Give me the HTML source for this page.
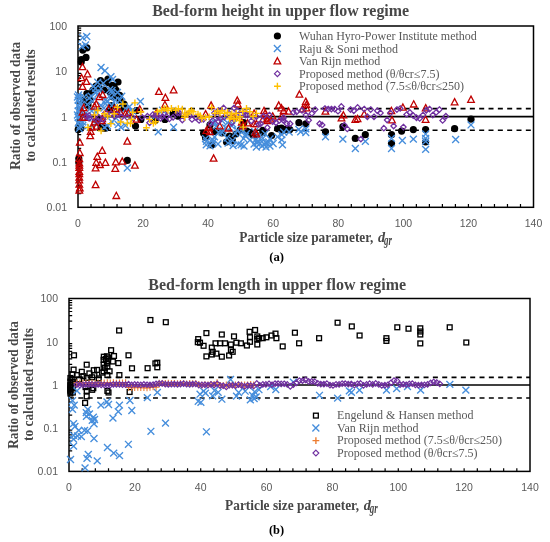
<!DOCTYPE html>
<html><head><meta charset="utf-8"><title>Bed-form charts</title><style>html,body{margin:0;padding:0;background:#fff}
svg{display:block}
.tk{font-family:"Liberation Sans",sans-serif;font-size:10.5px;fill:#595959}
.ttl{font-family:"Liberation Serif",serif;font-weight:bold;font-size:16px;fill:#474747}
.ax{font-family:"Liberation Serif",serif;font-weight:bold;font-size:14.2px;fill:#474747}
.lg{font-family:"Liberation Serif",serif;font-size:12px;fill:#595959}
.cap{font-family:"Liberation Serif",serif;font-weight:bold;font-size:13.2px;fill:#000}
</style></head><body>
<svg width="550" height="542" viewBox="0 0 550 542">
<rect width="550" height="542" fill="#fff"/>
<rect x="78" y="26" width="455.5" height="181.3" fill="none" stroke="#000" stroke-width="1.5"/>
<path d="M91.01 207.3V204.10000000000002M104.03 207.3V204.10000000000002M117.04 207.3V204.10000000000002M130.06 207.3V204.10000000000002M143.07 207.3V204.10000000000002M156.09 207.3V204.10000000000002M169.10 207.3V204.10000000000002M182.11 207.3V204.10000000000002M195.13 207.3V204.10000000000002M208.14 207.3V204.10000000000002M221.16 207.3V204.10000000000002M234.17 207.3V204.10000000000002M247.19 207.3V204.10000000000002M260.20 207.3V204.10000000000002M273.21 207.3V204.10000000000002M286.23 207.3V204.10000000000002M299.24 207.3V204.10000000000002M312.26 207.3V204.10000000000002M325.27 207.3V204.10000000000002M338.29 207.3V204.10000000000002M351.30 207.3V204.10000000000002M364.31 207.3V204.10000000000002M377.33 207.3V204.10000000000002M390.34 207.3V204.10000000000002M403.36 207.3V204.10000000000002M416.37 207.3V204.10000000000002M429.39 207.3V204.10000000000002M442.40 207.3V204.10000000000002M455.41 207.3V204.10000000000002M468.43 207.3V204.10000000000002M481.44 207.3V204.10000000000002M494.46 207.3V204.10000000000002M507.47 207.3V204.10000000000002M520.49 207.3V204.10000000000002M78 193.66H81.2M78 185.67H81.2M78 180.01H81.2M78 175.62H81.2M78 172.03H81.2M78 169.00H81.2M78 166.37H81.2M78 164.05H81.2M78 148.33H81.2M78 140.35H81.2M78 134.69H81.2M78 130.29H81.2M78 126.71H81.2M78 123.67H81.2M78 121.04H81.2M78 118.72H81.2M78 103.01H81.2M78 95.02H81.2M78 89.36H81.2M78 84.97H81.2M78 81.38H81.2M78 78.35H81.2M78 75.72H81.2M78 73.40H81.2M78 57.68H81.2M78 49.70H81.2M78 44.04H81.2M78 39.64H81.2M78 36.06H81.2M78 33.02H81.2M78 30.39H81.2M78 28.07H81.2" stroke="#000" stroke-width="1.2" fill="none"/>
<text x="78.0" y="226.8" text-anchor="middle" class="tk">0</text>
<text x="143.1" y="226.8" text-anchor="middle" class="tk">20</text>
<text x="208.1" y="226.8" text-anchor="middle" class="tk">40</text>
<text x="273.2" y="226.8" text-anchor="middle" class="tk">60</text>
<text x="338.3" y="226.8" text-anchor="middle" class="tk">80</text>
<text x="403.4" y="226.8" text-anchor="middle" class="tk">100</text>
<text x="468.4" y="226.8" text-anchor="middle" class="tk">120</text>
<text x="533.5" y="226.8" text-anchor="middle" class="tk">140</text>
<text x="67" y="211.1" text-anchor="end" class="tk">0.01</text>
<text x="67" y="165.8" text-anchor="end" class="tk">0.1</text>
<text x="67" y="120.5" text-anchor="end" class="tk">1</text>
<text x="67" y="75.1" text-anchor="end" class="tk">10</text>
<text x="67" y="29.8" text-anchor="end" class="tk">100</text>
<text x="152.2" y="16.4" class="ttl" textLength="256.9" lengthAdjust="spacingAndGlyphs">Bed-form height in upper flow regime</text>
<text transform="translate(19.8,169.8) rotate(-90)" class="ax" font-size="13.6" textLength="128" lengthAdjust="spacingAndGlyphs">Ratio of observed data</text>
<text transform="translate(35.1,161.8) rotate(-90)" class="ax" font-size="13.6" textLength="112.6" lengthAdjust="spacingAndGlyphs">to calculated results</text>
<text x="239.3" y="241.6" class="ax" textLength="134" lengthAdjust="spacingAndGlyphs">Particle size parameter,</text>
<text x="377.9" y="241.6" class="ax" font-style="italic">d</text>
<text x="383.9" y="244.5" class="ax" font-style="italic" font-size="9.5" textLength="8" lengthAdjust="spacingAndGlyphs">gr</text>
<text x="269.3" y="260.6" class="cap" textLength="14.8" lengthAdjust="spacingAndGlyphs">(a)</text>
<path d="M78 116.65H533.5" stroke="#000" stroke-width="1.6"/>
<path d="M78 108.67H533.5M78 130.29H533.5" stroke="#000" stroke-width="1.6" stroke-dasharray="5 4.33"/>
<circle cx="86.9" cy="47.8" r="3.6" fill="#000"/>
<circle cx="82.8" cy="50.1" r="3.6" fill="#000"/>
<circle cx="86.0" cy="57.4" r="3.6" fill="#000"/>
<circle cx="81.4" cy="59.6" r="3.6" fill="#000"/>
<circle cx="81.2" cy="62.0" r="3.6" fill="#000"/>
<circle cx="100.5" cy="80.5" r="3.6" fill="#000"/>
<circle cx="106.5" cy="82.7" r="3.6" fill="#000"/>
<circle cx="112.0" cy="85.4" r="3.6" fill="#000"/>
<circle cx="89.1" cy="94.2" r="3.6" fill="#000"/>
<circle cx="119.6" cy="95.3" r="3.6" fill="#000"/>
<circle cx="98.9" cy="87.1" r="3.6" fill="#000"/>
<circle cx="114.2" cy="87.1" r="3.6" fill="#000"/>
<circle cx="83.6" cy="100.2" r="3.6" fill="#000"/>
<circle cx="86.9" cy="93.6" r="3.6" fill="#000"/>
<circle cx="112.0" cy="105.6" r="3.6" fill="#000"/>
<circle cx="121.8" cy="107.8" r="3.6" fill="#000"/>
<circle cx="97.8" cy="119.8" r="3.6" fill="#000"/>
<circle cx="101.1" cy="127.4" r="3.6" fill="#000"/>
<circle cx="78.2" cy="129.6" r="3.6" fill="#000"/>
<circle cx="127.3" cy="160.4" r="3.6" fill="#000"/>
<circle cx="103.3" cy="128.2" r="3.6" fill="#000"/>
<circle cx="135.5" cy="126.0" r="3.6" fill="#000"/>
<circle cx="205.5" cy="137.7" r="3.6" fill="#000"/>
<circle cx="211.8" cy="145.0" r="3.6" fill="#000"/>
<circle cx="155.1" cy="120.5" r="3.6" fill="#000"/>
<circle cx="164.9" cy="119.4" r="3.6" fill="#000"/>
<circle cx="173.1" cy="113.4" r="3.6" fill="#000"/>
<circle cx="178.0" cy="116.2" r="3.6" fill="#000"/>
<circle cx="140.9" cy="119.4" r="3.6" fill="#000"/>
<circle cx="136.5" cy="110.7" r="3.6" fill="#000"/>
<circle cx="210.0" cy="124.9" r="3.6" fill="#000"/>
<circle cx="214.4" cy="131.4" r="3.6" fill="#000"/>
<circle cx="243.8" cy="122.7" r="3.6" fill="#000"/>
<circle cx="229.5" cy="136.2" r="3.6" fill="#000"/>
<circle cx="232.4" cy="140.5" r="3.6" fill="#000"/>
<circle cx="226.5" cy="142.0" r="3.6" fill="#000"/>
<circle cx="246.9" cy="131.1" r="3.6" fill="#000"/>
<circle cx="252.7" cy="134.7" r="3.6" fill="#000"/>
<circle cx="262.9" cy="132.5" r="3.6" fill="#000"/>
<circle cx="271.6" cy="135.5" r="3.6" fill="#000"/>
<circle cx="262.9" cy="130.3" r="3.6" fill="#000"/>
<circle cx="281.4" cy="128.2" r="3.6" fill="#000"/>
<circle cx="285.8" cy="129.3" r="3.6" fill="#000"/>
<circle cx="298.9" cy="122.7" r="3.6" fill="#000"/>
<circle cx="250.9" cy="132.5" r="3.6" fill="#000"/>
<circle cx="289.8" cy="129.6" r="3.6" fill="#000"/>
<circle cx="305.8" cy="123.8" r="3.6" fill="#000"/>
<circle cx="325.5" cy="131.8" r="3.6" fill="#000"/>
<circle cx="342.9" cy="126.7" r="3.6" fill="#000"/>
<circle cx="355.3" cy="138.4" r="3.6" fill="#000"/>
<circle cx="365.3" cy="134.7" r="3.6" fill="#000"/>
<circle cx="391.5" cy="134.7" r="3.6" fill="#000"/>
<circle cx="391.5" cy="143.5" r="3.6" fill="#000"/>
<circle cx="401.6" cy="131.1" r="3.6" fill="#000"/>
<circle cx="413.3" cy="129.6" r="3.6" fill="#000"/>
<circle cx="425.6" cy="129.6" r="3.6" fill="#000"/>
<circle cx="425.6" cy="142.0" r="3.6" fill="#000"/>
<circle cx="454.6" cy="128.7" r="3.6" fill="#000"/>
<circle cx="471.0" cy="119.2" r="3.6" fill="#000"/>
<circle cx="88.0" cy="105.0" r="3.6" fill="#000"/>
<circle cx="79.0" cy="126.0" r="3.6" fill="#000"/>
<circle cx="277.6" cy="128.6" r="3.6" fill="#000"/>
<circle cx="282.0" cy="130.8" r="3.6" fill="#000"/>
<circle cx="240.5" cy="129.7" r="3.6" fill="#000"/>
<circle cx="255.8" cy="135.2" r="3.6" fill="#000"/>
<circle cx="236.0" cy="134.0" r="3.6" fill="#000"/>
<circle cx="222.0" cy="133.0" r="3.6" fill="#000"/>
<circle cx="80.9" cy="128.2" r="3.6" fill="#000"/>
<circle cx="105.5" cy="128.2" r="3.6" fill="#000"/>
<circle cx="90.0" cy="100.0" r="3.6" fill="#000"/>
<circle cx="110.0" cy="110.0" r="3.6" fill="#000"/>
<circle cx="203.6" cy="133.2" r="3.6" fill="#000"/>
<circle cx="78.8" cy="158.5" r="3.6" fill="#000"/>
<circle cx="78.8" cy="162.5" r="3.6" fill="#000"/>
<circle cx="96.0" cy="86.0" r="3.6" fill="#000"/>
<circle cx="104.0" cy="90.0" r="3.6" fill="#000"/>
<circle cx="110.0" cy="92.0" r="3.6" fill="#000"/>
<circle cx="116.0" cy="90.0" r="3.6" fill="#000"/>
<circle cx="120.0" cy="100.0" r="3.6" fill="#000"/>
<circle cx="124.0" cy="104.0" r="3.6" fill="#000"/>
<circle cx="113.0" cy="97.0" r="3.6" fill="#000"/>
<circle cx="93.0" cy="90.0" r="3.6" fill="#000"/>
<circle cx="118.0" cy="82.0" r="3.6" fill="#000"/>
<circle cx="108.0" cy="79.0" r="3.6" fill="#000"/>
<path d="M79.3 34.1L86.2 41.1M79.3 41.1L86.2 34.1" stroke="#468EDC" stroke-width="1.35" fill="none"/>
<path d="M83.2 33.0L90.2 40.0M83.2 40.0L90.2 33.0" stroke="#468EDC" stroke-width="1.35" fill="none"/>
<path d="M78.5 43.0L85.4 50.0M78.5 50.0L85.4 43.0" stroke="#468EDC" stroke-width="1.35" fill="none"/>
<path d="M82.0 41.6L89.0 48.6M82.0 48.6L89.0 41.6" stroke="#468EDC" stroke-width="1.35" fill="none"/>
<path d="M97.6 64.0L104.5 71.0M97.6 71.0L104.5 64.0" stroke="#468EDC" stroke-width="1.35" fill="none"/>
<path d="M101.5 67.2L108.4 74.2M101.5 74.2L108.4 67.2" stroke="#468EDC" stroke-width="1.35" fill="none"/>
<path d="M107.5 73.2L114.4 80.2M107.5 80.2L114.4 73.2" stroke="#468EDC" stroke-width="1.35" fill="none"/>
<path d="M109.0 76.0L116.0 82.9M109.0 82.9L116.0 76.0" stroke="#468EDC" stroke-width="1.35" fill="none"/>
<path d="M94.3 78.8L101.2 85.7M94.3 85.7L101.2 78.8" stroke="#468EDC" stroke-width="1.35" fill="none"/>
<path d="M99.8 79.8L106.8 86.8M99.8 86.8L106.8 79.8" stroke="#468EDC" stroke-width="1.35" fill="none"/>
<path d="M90.0 83.0L96.9 90.0M90.0 90.0L96.9 83.0" stroke="#468EDC" stroke-width="1.35" fill="none"/>
<path d="M106.3 86.3L113.2 93.2M106.3 93.2L113.2 86.3" stroke="#468EDC" stroke-width="1.35" fill="none"/>
<path d="M108.5 89.5L115.5 96.5M108.5 96.5L115.5 89.5" stroke="#468EDC" stroke-width="1.35" fill="none"/>
<path d="M118.3 92.8L125.2 99.8M118.3 99.8L125.2 92.8" stroke="#468EDC" stroke-width="1.35" fill="none"/>
<path d="M87.8 92.8L94.8 99.8M87.8 99.8L94.8 92.8" stroke="#468EDC" stroke-width="1.35" fill="none"/>
<path d="M92.1 89.5L99.0 96.5M92.1 96.5L99.0 89.5" stroke="#468EDC" stroke-width="1.35" fill="none"/>
<path d="M92.1 84.8L99.0 91.7M92.1 91.7L99.0 84.8" stroke="#468EDC" stroke-width="1.35" fill="none"/>
<path d="M97.6 85.2L104.5 92.2M97.6 92.2L104.5 85.2" stroke="#468EDC" stroke-width="1.35" fill="none"/>
<path d="M108.5 87.0L115.5 93.9M108.5 93.9L115.5 87.0" stroke="#468EDC" stroke-width="1.35" fill="none"/>
<path d="M114.0 89.0L120.9 96.0M114.0 96.0L120.9 89.0" stroke="#468EDC" stroke-width="1.35" fill="none"/>
<path d="M85.6 94.5L92.5 101.5M85.6 101.5L92.5 94.5" stroke="#468EDC" stroke-width="1.35" fill="none"/>
<path d="M89.0 97.8L95.9 104.8M89.0 104.8L95.9 97.8" stroke="#468EDC" stroke-width="1.35" fill="none"/>
<path d="M102.0 96.8L108.9 103.7M102.0 103.7L108.9 96.8" stroke="#468EDC" stroke-width="1.35" fill="none"/>
<path d="M107.5 94.5L114.4 101.5M107.5 101.5L114.4 94.5" stroke="#468EDC" stroke-width="1.35" fill="none"/>
<path d="M111.8 96.8L118.8 103.7M111.8 103.7L118.8 96.8" stroke="#468EDC" stroke-width="1.35" fill="none"/>
<path d="M116.1 96.8L123.0 103.7M116.1 103.7L123.0 96.8" stroke="#468EDC" stroke-width="1.35" fill="none"/>
<path d="M74.8 96.8L81.7 103.7M74.8 103.7L81.7 96.8" stroke="#468EDC" stroke-width="1.35" fill="none"/>
<path d="M74.8 102.1L81.7 109.0M74.8 109.0L81.7 102.1" stroke="#468EDC" stroke-width="1.35" fill="none"/>
<path d="M74.8 107.5L81.7 114.5M74.8 114.5L81.7 107.5" stroke="#468EDC" stroke-width="1.35" fill="none"/>
<path d="M74.8 114.1L81.7 121.0M74.8 121.0L81.7 114.1" stroke="#468EDC" stroke-width="1.35" fill="none"/>
<path d="M74.8 119.5L81.7 126.5M74.8 126.5L81.7 119.5" stroke="#468EDC" stroke-width="1.35" fill="none"/>
<path d="M79.0 118.5L86.0 125.5M79.0 125.5L86.0 118.5" stroke="#468EDC" stroke-width="1.35" fill="none"/>
<path d="M75.8 125.0L82.8 131.9M75.8 131.9L82.8 125.0" stroke="#468EDC" stroke-width="1.35" fill="none"/>
<path d="M86.8 124.0L93.7 130.8M86.8 130.8L93.7 124.0" stroke="#468EDC" stroke-width="1.35" fill="none"/>
<path d="M101.0 124.0L107.9 130.8M101.0 130.8L107.9 124.0" stroke="#468EDC" stroke-width="1.35" fill="none"/>
<path d="M108.5 118.5L115.5 125.5M108.5 125.5L115.5 118.5" stroke="#468EDC" stroke-width="1.35" fill="none"/>
<path d="M126.0 103.2L132.8 110.2M126.0 110.2L132.8 103.2" stroke="#468EDC" stroke-width="1.35" fill="none"/>
<path d="M129.2 107.6L136.1 114.5M129.2 114.5L136.1 107.6" stroke="#468EDC" stroke-width="1.35" fill="none"/>
<path d="M75.0 91.5L82.0 98.5M75.0 98.5L82.0 91.5" stroke="#468EDC" stroke-width="1.35" fill="none"/>
<path d="M76.5 99.5L83.5 106.5M76.5 106.5L83.5 99.5" stroke="#468EDC" stroke-width="1.35" fill="none"/>
<path d="M76.5 104.5L83.5 111.5M76.5 111.5L83.5 104.5" stroke="#468EDC" stroke-width="1.35" fill="none"/>
<path d="M76.5 110.5L83.5 117.5M76.5 117.5L83.5 110.5" stroke="#468EDC" stroke-width="1.35" fill="none"/>
<path d="M76.5 116.5L83.5 123.5M76.5 123.5L83.5 116.5" stroke="#468EDC" stroke-width="1.35" fill="none"/>
<path d="M76.5 122.5L83.5 129.4M76.5 129.4L83.5 122.5" stroke="#468EDC" stroke-width="1.35" fill="none"/>
<path d="M123.8 164.6L130.8 171.4M123.8 171.4L130.8 164.6" stroke="#468EDC" stroke-width="1.35" fill="none"/>
<path d="M154.8 128.5L161.6 135.3M154.8 135.3L161.6 128.5" stroke="#468EDC" stroke-width="1.35" fill="none"/>
<path d="M170.2 123.8L177.0 130.7M170.2 130.7L177.0 123.8" stroke="#468EDC" stroke-width="1.35" fill="none"/>
<path d="M203.0 138.0L209.8 144.8M203.0 144.8L209.8 138.0" stroke="#468EDC" stroke-width="1.35" fill="none"/>
<path d="M209.2 138.9L216.1 145.8M209.2 145.8L216.1 138.9" stroke="#468EDC" stroke-width="1.35" fill="none"/>
<path d="M206.6 142.5L213.4 149.3M206.6 149.3L213.4 142.5" stroke="#468EDC" stroke-width="1.35" fill="none"/>
<path d="M224.6 139.8L231.4 146.6M224.6 146.6L231.4 139.8" stroke="#468EDC" stroke-width="1.35" fill="none"/>
<path d="M137.0 98.0L143.8 105.0M137.0 105.0L143.8 98.0" stroke="#468EDC" stroke-width="1.35" fill="none"/>
<path d="M159.2 106.8L166.1 113.7M159.2 113.7L166.1 106.8" stroke="#468EDC" stroke-width="1.35" fill="none"/>
<path d="M152.8 112.1L159.6 119.0M152.8 119.0L159.6 112.1" stroke="#468EDC" stroke-width="1.35" fill="none"/>
<path d="M208.8 119.2L215.6 126.2M208.8 126.2L215.6 119.2" stroke="#468EDC" stroke-width="1.35" fill="none"/>
<path d="M213.1 122.5L219.9 129.4M213.1 129.4L219.9 122.5" stroke="#468EDC" stroke-width="1.35" fill="none"/>
<path d="M219.7 126.9L226.5 133.8M219.7 133.8L226.5 126.9" stroke="#468EDC" stroke-width="1.35" fill="none"/>
<path d="M228.4 122.5L235.2 129.4M228.4 129.4L235.2 122.5" stroke="#468EDC" stroke-width="1.35" fill="none"/>
<path d="M233.9 126.9L240.8 133.8M233.9 133.8L240.8 126.9" stroke="#468EDC" stroke-width="1.35" fill="none"/>
<path d="M224.0 119.2L230.8 126.2M224.0 126.2L230.8 119.2" stroke="#468EDC" stroke-width="1.35" fill="none"/>
<path d="M239.2 128.0L246.1 134.8M239.2 134.8L246.1 128.0" stroke="#468EDC" stroke-width="1.35" fill="none"/>
<path d="M215.2 129.1L222.1 135.9M215.2 135.9L222.1 129.1" stroke="#468EDC" stroke-width="1.35" fill="none"/>
<path d="M209.2 136.4L216.1 143.2M209.2 143.2L216.1 136.4" stroke="#468EDC" stroke-width="1.35" fill="none"/>
<path d="M202.8 141.5L209.6 148.3M202.8 148.3L209.6 141.5" stroke="#468EDC" stroke-width="1.35" fill="none"/>
<path d="M218.8 129.1L225.6 135.9M218.8 135.9L225.6 129.1" stroke="#468EDC" stroke-width="1.35" fill="none"/>
<path d="M229.7 142.2L236.5 149.0M229.7 149.0L236.5 142.2" stroke="#468EDC" stroke-width="1.35" fill="none"/>
<path d="M237.7 141.5L244.5 148.3M237.7 148.3L244.5 141.5" stroke="#468EDC" stroke-width="1.35" fill="none"/>
<path d="M231.9 129.9L238.8 136.8M231.9 136.8L238.8 129.9" stroke="#468EDC" stroke-width="1.35" fill="none"/>
<path d="M242.1 132.8L248.9 139.6M242.1 139.6L248.9 132.8" stroke="#468EDC" stroke-width="1.35" fill="none"/>
<path d="M252.2 136.4L259.1 143.2M252.2 143.2L259.1 136.4" stroke="#468EDC" stroke-width="1.35" fill="none"/>
<path d="M252.9 143.7L259.8 150.5M252.9 150.5L259.8 143.7" stroke="#468EDC" stroke-width="1.35" fill="none"/>
<path d="M259.4 135.0L266.3 141.8M259.4 141.8L266.3 135.0" stroke="#468EDC" stroke-width="1.35" fill="none"/>
<path d="M260.9 140.8L267.8 147.6M260.9 147.6L267.8 140.8" stroke="#468EDC" stroke-width="1.35" fill="none"/>
<path d="M265.2 138.6L272.1 145.4M265.2 145.4L272.1 138.6" stroke="#468EDC" stroke-width="1.35" fill="none"/>
<path d="M269.7 140.1L276.6 146.9M269.7 146.9L276.6 140.1" stroke="#468EDC" stroke-width="1.35" fill="none"/>
<path d="M256.6 140.1L263.4 146.9M256.6 146.9L263.4 140.1" stroke="#468EDC" stroke-width="1.35" fill="none"/>
<path d="M253.6 139.6L260.4 146.4M253.6 146.4L260.4 139.6" stroke="#468EDC" stroke-width="1.35" fill="none"/>
<path d="M262.6 143.6L269.4 150.4M262.6 150.4L269.4 143.6" stroke="#468EDC" stroke-width="1.35" fill="none"/>
<path d="M266.6 135.6L273.4 142.4M266.6 142.4L273.4 135.6" stroke="#468EDC" stroke-width="1.35" fill="none"/>
<path d="M243.1 130.2L249.9 137.0M243.1 137.0L249.9 130.2" stroke="#468EDC" stroke-width="1.35" fill="none"/>
<path d="M261.7 130.2L268.6 137.0M261.7 137.0L268.6 130.2" stroke="#468EDC" stroke-width="1.35" fill="none"/>
<path d="M280.2 128.6L287.1 135.4M280.2 135.4L287.1 128.6" stroke="#468EDC" stroke-width="1.35" fill="none"/>
<path d="M285.7 128.6L292.6 135.4M285.7 135.4L292.6 128.6" stroke="#468EDC" stroke-width="1.35" fill="none"/>
<path d="M295.4 125.9L302.3 132.8M295.4 132.8L302.3 125.9" stroke="#468EDC" stroke-width="1.35" fill="none"/>
<path d="M278.4 131.2L285.2 138.1M278.4 138.1L285.2 131.2" stroke="#468EDC" stroke-width="1.35" fill="none"/>
<path d="M278.4 136.4L285.2 143.2M278.4 143.2L285.2 136.4" stroke="#468EDC" stroke-width="1.35" fill="none"/>
<path d="M279.1 141.5L285.9 148.3M279.1 148.3L285.9 141.5" stroke="#468EDC" stroke-width="1.35" fill="none"/>
<path d="M297.2 128.4L304.1 135.2M297.2 135.2L304.1 128.4" stroke="#468EDC" stroke-width="1.35" fill="none"/>
<path d="M302.4 125.5L309.2 132.3M302.4 132.3L309.2 125.5" stroke="#468EDC" stroke-width="1.35" fill="none"/>
<path d="M302.4 129.1L309.2 135.9M302.4 135.9L309.2 129.1" stroke="#468EDC" stroke-width="1.35" fill="none"/>
<path d="M322.1 133.5L328.9 140.3M322.1 140.3L328.9 133.5" stroke="#468EDC" stroke-width="1.35" fill="none"/>
<path d="M339.4 135.7L346.3 142.5M339.4 142.5L346.3 135.7" stroke="#468EDC" stroke-width="1.35" fill="none"/>
<path d="M351.9 145.1L358.8 151.9M351.9 151.9L358.8 145.1" stroke="#468EDC" stroke-width="1.35" fill="none"/>
<path d="M274.1 133.5L280.9 140.3M274.1 140.3L280.9 133.5" stroke="#468EDC" stroke-width="1.35" fill="none"/>
<path d="M361.9 137.9L368.8 144.8M361.9 144.8L368.8 137.9" stroke="#468EDC" stroke-width="1.35" fill="none"/>
<path d="M388.1 135.0L394.9 141.8M388.1 141.8L394.9 135.0" stroke="#468EDC" stroke-width="1.35" fill="none"/>
<path d="M388.1 145.1L394.9 151.9M388.1 151.9L394.9 145.1" stroke="#468EDC" stroke-width="1.35" fill="none"/>
<path d="M398.9 137.1L405.8 143.9M398.9 143.9L405.8 137.1" stroke="#468EDC" stroke-width="1.35" fill="none"/>
<path d="M409.9 135.7L416.8 142.5M409.9 142.5L416.8 135.7" stroke="#468EDC" stroke-width="1.35" fill="none"/>
<path d="M422.2 130.6L429.1 137.4M422.2 137.4L429.1 130.6" stroke="#468EDC" stroke-width="1.35" fill="none"/>
<path d="M422.2 135.0L429.1 141.8M422.2 141.8L429.1 135.0" stroke="#468EDC" stroke-width="1.35" fill="none"/>
<path d="M422.2 137.9L429.1 144.8M422.2 144.8L429.1 137.9" stroke="#468EDC" stroke-width="1.35" fill="none"/>
<path d="M422.2 145.9L429.1 152.8M422.2 152.8L429.1 145.9" stroke="#468EDC" stroke-width="1.35" fill="none"/>
<path d="M467.6 121.5L474.4 128.4M467.6 128.4L474.4 121.5" stroke="#468EDC" stroke-width="1.35" fill="none"/>
<path d="M452.2 136.1L459.1 142.9M452.2 142.9L459.1 136.1" stroke="#468EDC" stroke-width="1.35" fill="none"/>
<path d="M74.0 93.5L81.0 100.5M74.0 100.5L81.0 93.5" stroke="#468EDC" stroke-width="1.35" fill="none"/>
<path d="M76.0 94.5L83.0 101.5M76.0 101.5L83.0 94.5" stroke="#468EDC" stroke-width="1.35" fill="none"/>
<path d="M74.0 111.5L81.0 118.5M74.0 118.5L81.0 111.5" stroke="#468EDC" stroke-width="1.35" fill="none"/>
<path d="M77.5 101.5L84.5 108.5M77.5 108.5L84.5 101.5" stroke="#468EDC" stroke-width="1.35" fill="none"/>
<path d="M77.5 107.5L84.5 114.5M77.5 114.5L84.5 107.5" stroke="#468EDC" stroke-width="1.35" fill="none"/>
<path d="M246.6 136.6L253.4 143.4M246.6 143.4L253.4 136.6" stroke="#468EDC" stroke-width="1.35" fill="none"/>
<path d="M250.6 140.6L257.4 147.4M250.6 147.4L257.4 140.6" stroke="#468EDC" stroke-width="1.35" fill="none"/>
<path d="M254.6 137.6L261.4 144.4M254.6 144.4L261.4 137.6" stroke="#468EDC" stroke-width="1.35" fill="none"/>
<path d="M258.6 142.6L265.4 149.4M258.6 149.4L265.4 142.6" stroke="#468EDC" stroke-width="1.35" fill="none"/>
<path d="M262.6 139.6L269.4 146.4M262.6 146.4L269.4 139.6" stroke="#468EDC" stroke-width="1.35" fill="none"/>
<path d="M240.6 142.6L247.4 149.4M240.6 149.4L247.4 142.6" stroke="#468EDC" stroke-width="1.35" fill="none"/>
<path d="M266.6 142.6L273.4 149.4M266.6 149.4L273.4 142.6" stroke="#468EDC" stroke-width="1.35" fill="none"/>
<path d="M223.6 134.6L230.4 141.4M223.6 141.4L230.4 134.6" stroke="#468EDC" stroke-width="1.35" fill="none"/>
<path d="M214.6 140.6L221.4 147.4M214.6 147.4L221.4 140.6" stroke="#468EDC" stroke-width="1.35" fill="none"/>
<path d="M83.8 101.0L90.8 108.0M83.8 108.0L90.8 101.0" stroke="#468EDC" stroke-width="1.35" fill="none"/>
<path d="M88.3 107.5L95.2 114.4M88.3 114.4L95.2 107.5" stroke="#468EDC" stroke-width="1.35" fill="none"/>
<path d="M97.5 102.0L104.4 109.0M97.5 109.0L104.4 102.0" stroke="#468EDC" stroke-width="1.35" fill="none"/>
<path d="M102.0 100.1L109.0 107.0M102.0 107.0L109.0 100.1" stroke="#468EDC" stroke-width="1.35" fill="none"/>
<path d="M108.3 102.0L115.2 109.0M108.3 109.0L115.2 102.0" stroke="#468EDC" stroke-width="1.35" fill="none"/>
<path d="M114.8 105.6L121.7 112.5M114.8 112.5L121.7 105.6" stroke="#468EDC" stroke-width="1.35" fill="none"/>
<path d="M122.0 105.6L128.9 112.5M122.0 112.5L128.9 105.6" stroke="#468EDC" stroke-width="1.35" fill="none"/>
<path d="M114.8 121.0L121.7 128.0M114.8 128.0L121.7 121.0" stroke="#468EDC" stroke-width="1.35" fill="none"/>
<path d="M117.5 123.8L124.4 130.8M117.5 130.8L124.4 123.8" stroke="#468EDC" stroke-width="1.35" fill="none"/>
<path d="M122.0 122.0L128.9 128.9M122.0 128.9L128.9 122.0" stroke="#468EDC" stroke-width="1.35" fill="none"/>
<path d="M79.2 122.0L86.2 128.9M79.2 128.9L86.2 122.0" stroke="#468EDC" stroke-width="1.35" fill="none"/>
<path d="M103.8 122.0L110.8 128.9M103.8 128.9L110.8 122.0" stroke="#468EDC" stroke-width="1.35" fill="none"/>
<path d="M125.5 108.3L132.4 115.2M125.5 115.2L132.4 108.3" stroke="#468EDC" stroke-width="1.35" fill="none"/>
<path d="M103.8 97.5L110.8 104.4M103.8 104.4L110.8 97.5" stroke="#468EDC" stroke-width="1.35" fill="none"/>
<path d="M80.5 93.5L87.5 100.5M80.5 100.5L87.5 93.5" stroke="#468EDC" stroke-width="1.35" fill="none"/>
<path d="M82.5 109.5L89.5 116.5M82.5 116.5L89.5 109.5" stroke="#468EDC" stroke-width="1.35" fill="none"/>
<path d="M84.5 114.5L91.5 121.5M84.5 121.5L91.5 114.5" stroke="#468EDC" stroke-width="1.35" fill="none"/>
<path d="M92.5 108.5L99.5 115.5M92.5 115.5L99.5 108.5" stroke="#468EDC" stroke-width="1.35" fill="none"/>
<path d="M100.5 104.5L107.5 111.5M100.5 111.5L107.5 104.5" stroke="#468EDC" stroke-width="1.35" fill="none"/>
<path d="M112.5 114.5L119.5 121.5M112.5 121.5L119.5 114.5" stroke="#468EDC" stroke-width="1.35" fill="none"/>
<path d="M92.5 120.5L99.5 127.5M92.5 127.5L99.5 120.5" stroke="#468EDC" stroke-width="1.35" fill="none"/>
<path d="M94.5 90.5L101.5 97.5M94.5 97.5L101.5 90.5" stroke="#468EDC" stroke-width="1.35" fill="none"/>
<path d="M211.1 118.8L217.9 125.8M211.1 125.8L217.9 118.8" stroke="#468EDC" stroke-width="1.35" fill="none"/>
<path d="M218.4 117.0L225.2 124.0M218.4 124.0L225.2 117.0" stroke="#468EDC" stroke-width="1.35" fill="none"/>
<path d="M222.1 124.2L228.9 131.2M222.1 131.2L228.9 124.2" stroke="#468EDC" stroke-width="1.35" fill="none"/>
<path d="M229.2 120.6L236.1 127.5M229.2 127.5L236.1 120.6" stroke="#468EDC" stroke-width="1.35" fill="none"/>
<path d="M238.4 126.0L245.2 132.9M238.4 132.9L245.2 126.0" stroke="#468EDC" stroke-width="1.35" fill="none"/>
<path d="M251.1 128.0L257.9 134.8M251.1 134.8L257.9 128.0" stroke="#468EDC" stroke-width="1.35" fill="none"/>
<path d="M254.8 133.4L261.6 140.2M254.8 140.2L261.6 133.4" stroke="#468EDC" stroke-width="1.35" fill="none"/>
<path d="M202.1 135.2L208.9 142.0M202.1 142.0L208.9 135.2" stroke="#468EDC" stroke-width="1.35" fill="none"/>
<path d="M211.1 133.4L217.9 140.2M211.1 140.2L217.9 133.4" stroke="#468EDC" stroke-width="1.35" fill="none"/>
<path d="M229.2 137.1L236.1 143.9M229.2 143.9L236.1 137.1" stroke="#468EDC" stroke-width="1.35" fill="none"/>
<path d="M234.8 140.7L241.6 147.5M234.8 147.5L241.6 140.7" stroke="#468EDC" stroke-width="1.35" fill="none"/>
<path d="M240.2 135.2L247.0 142.0M240.2 142.0L247.0 135.2" stroke="#468EDC" stroke-width="1.35" fill="none"/>
<path d="M82.5 63.5L85.8 69.7L79.2 69.7Z" stroke="#C00000" stroke-width="1.3" fill="none"/>
<path d="M87.5 70.6L90.8 76.8L84.2 76.8Z" stroke="#C00000" stroke-width="1.3" fill="none"/>
<path d="M81.5 74.4L84.8 80.6L78.2 80.6Z" stroke="#C00000" stroke-width="1.3" fill="none"/>
<path d="M86.4 78.2L89.7 84.4L83.1 84.4Z" stroke="#C00000" stroke-width="1.3" fill="none"/>
<path d="M82.5 83.1L85.8 89.3L79.2 89.3Z" stroke="#C00000" stroke-width="1.3" fill="none"/>
<path d="M102.7 91.3L106.0 97.5L99.4 97.5Z" stroke="#C00000" stroke-width="1.3" fill="none"/>
<path d="M99.4 93.5L102.7 99.7L96.1 99.7Z" stroke="#C00000" stroke-width="1.3" fill="none"/>
<path d="M96.2 100.6L99.5 106.8L92.9 106.8Z" stroke="#C00000" stroke-width="1.3" fill="none"/>
<path d="M83.6 104.4L86.9 110.6L80.3 110.6Z" stroke="#C00000" stroke-width="1.3" fill="none"/>
<path d="M108.7 105.5L112.0 111.7L105.4 111.7Z" stroke="#C00000" stroke-width="1.3" fill="none"/>
<path d="M114.2 105.5L117.5 111.7L110.9 111.7Z" stroke="#C00000" stroke-width="1.3" fill="none"/>
<path d="M82.5 108.8L85.8 115.0L79.2 115.0Z" stroke="#C00000" stroke-width="1.3" fill="none"/>
<path d="M84.7 114.2L88.0 120.4L81.4 120.4Z" stroke="#C00000" stroke-width="1.3" fill="none"/>
<path d="M94.5 118.6L97.8 124.8L91.2 124.8Z" stroke="#C00000" stroke-width="1.3" fill="none"/>
<path d="M102.2 115.3L105.5 121.5L98.9 121.5Z" stroke="#C00000" stroke-width="1.3" fill="none"/>
<path d="M96.7 122.9L100.0 129.1L93.4 129.1Z" stroke="#C00000" stroke-width="1.3" fill="none"/>
<path d="M128.3 109.3L131.6 115.5L125.0 115.5Z" stroke="#C00000" stroke-width="1.3" fill="none"/>
<path d="M90.2 132.4L93.5 138.6L86.9 138.6Z" stroke="#C00000" stroke-width="1.3" fill="none"/>
<path d="M90.7 128.1L94.0 134.3L87.4 134.3Z" stroke="#C00000" stroke-width="1.3" fill="none"/>
<path d="M79.8 139.0L83.1 145.2L76.5 145.2Z" stroke="#C00000" stroke-width="1.3" fill="none"/>
<path d="M127.3 137.9L130.6 144.1L124.0 144.1Z" stroke="#C00000" stroke-width="1.3" fill="none"/>
<path d="M102.2 147.1L105.5 153.3L98.9 153.3Z" stroke="#C00000" stroke-width="1.3" fill="none"/>
<path d="M97.3 153.1L100.6 159.3L94.0 159.3Z" stroke="#C00000" stroke-width="1.3" fill="none"/>
<path d="M79.8 149.3L83.1 155.5L76.5 155.5Z" stroke="#C00000" stroke-width="1.3" fill="none"/>
<path d="M79.3 155.3L82.6 161.5L76.0 161.5Z" stroke="#C00000" stroke-width="1.3" fill="none"/>
<path d="M79.3 159.6L82.6 165.8L76.0 165.8Z" stroke="#C00000" stroke-width="1.3" fill="none"/>
<path d="M105.4 159.1L108.7 165.3L102.1 165.3Z" stroke="#C00000" stroke-width="1.3" fill="none"/>
<path d="M96.2 159.1L99.5 165.3L92.9 165.3Z" stroke="#C00000" stroke-width="1.3" fill="none"/>
<path d="M100.0 161.3L103.3 167.5L96.7 167.5Z" stroke="#C00000" stroke-width="1.3" fill="none"/>
<path d="M115.8 158.6L119.1 164.8L112.5 164.8Z" stroke="#C00000" stroke-width="1.3" fill="none"/>
<path d="M122.3 158.0L125.6 164.2L119.0 164.2Z" stroke="#C00000" stroke-width="1.3" fill="none"/>
<path d="M134.9 161.9L138.2 168.1L131.6 168.1Z" stroke="#C00000" stroke-width="1.3" fill="none"/>
<path d="M115.3 165.1L118.6 171.3L112.0 171.3Z" stroke="#C00000" stroke-width="1.3" fill="none"/>
<path d="M95.6 164.6L98.9 170.8L92.3 170.8Z" stroke="#C00000" stroke-width="1.3" fill="none"/>
<path d="M79.3 161.8L82.6 168.0L76.0 168.0Z" stroke="#C00000" stroke-width="1.3" fill="none"/>
<path d="M79.3 164.1L82.6 170.3L76.0 170.3Z" stroke="#C00000" stroke-width="1.3" fill="none"/>
<path d="M79.3 168.1L82.6 174.3L76.0 174.3Z" stroke="#C00000" stroke-width="1.3" fill="none"/>
<path d="M79.3 170.5L82.6 176.7L76.0 176.7Z" stroke="#C00000" stroke-width="1.3" fill="none"/>
<path d="M79.3 173.8L82.6 180.0L76.0 180.0Z" stroke="#C00000" stroke-width="1.3" fill="none"/>
<path d="M79.3 176.6L82.6 182.8L76.0 182.8Z" stroke="#C00000" stroke-width="1.3" fill="none"/>
<path d="M79.3 180.9L82.6 187.1L76.0 187.1Z" stroke="#C00000" stroke-width="1.3" fill="none"/>
<path d="M79.8 184.7L83.1 190.9L76.5 190.9Z" stroke="#C00000" stroke-width="1.3" fill="none"/>
<path d="M79.3 186.9L82.6 193.1L76.0 193.1Z" stroke="#C00000" stroke-width="1.3" fill="none"/>
<path d="M95.6 181.4L98.9 187.6L92.3 187.6Z" stroke="#C00000" stroke-width="1.3" fill="none"/>
<path d="M116.3 192.3L119.6 198.5L113.0 198.5Z" stroke="#C00000" stroke-width="1.3" fill="none"/>
<path d="M213.6 154.9L216.9 161.1L210.3 161.1Z" stroke="#C00000" stroke-width="1.3" fill="none"/>
<path d="M206.4 127.1L209.7 133.3L203.1 133.3Z" stroke="#C00000" stroke-width="1.3" fill="none"/>
<path d="M158.9 88.2L162.2 94.4L155.6 94.4Z" stroke="#C00000" stroke-width="1.3" fill="none"/>
<path d="M173.6 86.6L176.9 92.8L170.3 92.8Z" stroke="#C00000" stroke-width="1.3" fill="none"/>
<path d="M165.4 94.2L168.7 100.4L162.1 100.4Z" stroke="#C00000" stroke-width="1.3" fill="none"/>
<path d="M164.9 101.3L168.2 107.5L161.6 107.5Z" stroke="#C00000" stroke-width="1.3" fill="none"/>
<path d="M139.8 105.7L143.1 111.9L136.5 111.9Z" stroke="#C00000" stroke-width="1.3" fill="none"/>
<path d="M156.2 110.0L159.5 116.2L152.9 116.2Z" stroke="#C00000" stroke-width="1.3" fill="none"/>
<path d="M136.5 116.0L139.8 122.2L133.2 122.2Z" stroke="#C00000" stroke-width="1.3" fill="none"/>
<path d="M211.1 101.9L214.4 108.1L207.8 108.1Z" stroke="#C00000" stroke-width="1.3" fill="none"/>
<path d="M237.3 97.0L240.6 103.2L234.0 103.2Z" stroke="#C00000" stroke-width="1.3" fill="none"/>
<path d="M237.8 100.8L241.1 107.0L234.5 107.0Z" stroke="#C00000" stroke-width="1.3" fill="none"/>
<path d="M205.6 110.6L208.9 116.8L202.3 116.8Z" stroke="#C00000" stroke-width="1.3" fill="none"/>
<path d="M219.8 122.6L223.1 128.8L216.5 128.8Z" stroke="#C00000" stroke-width="1.3" fill="none"/>
<path d="M228.5 124.8L231.8 131.0L225.2 131.0Z" stroke="#C00000" stroke-width="1.3" fill="none"/>
<path d="M242.7 122.6L246.0 128.8L239.4 128.8Z" stroke="#C00000" stroke-width="1.3" fill="none"/>
<path d="M234.0 113.3L237.3 119.5L230.7 119.5Z" stroke="#C00000" stroke-width="1.3" fill="none"/>
<path d="M209.8 128.4L213.1 134.6L206.5 134.6Z" stroke="#C00000" stroke-width="1.3" fill="none"/>
<path d="M247.6 119.7L250.9 125.9L244.3 125.9Z" stroke="#C00000" stroke-width="1.3" fill="none"/>
<path d="M256.4 130.6L259.7 136.8L253.1 136.8Z" stroke="#C00000" stroke-width="1.3" fill="none"/>
<path d="M254.2 120.4L257.5 126.6L250.9 126.6Z" stroke="#C00000" stroke-width="1.3" fill="none"/>
<path d="M267.3 117.5L270.6 123.7L264.0 123.7Z" stroke="#C00000" stroke-width="1.3" fill="none"/>
<path d="M278.7 101.9L282.0 108.1L275.4 108.1Z" stroke="#C00000" stroke-width="1.3" fill="none"/>
<path d="M281.4 104.6L284.7 110.8L278.1 110.8Z" stroke="#C00000" stroke-width="1.3" fill="none"/>
<path d="M283.6 107.3L286.9 113.5L280.3 113.5Z" stroke="#C00000" stroke-width="1.3" fill="none"/>
<path d="M288.5 107.9L291.8 114.1L285.2 114.1Z" stroke="#C00000" stroke-width="1.3" fill="none"/>
<path d="M264.0 107.3L267.3 113.5L260.7 113.5Z" stroke="#C00000" stroke-width="1.3" fill="none"/>
<path d="M265.1 110.0L268.4 116.2L261.8 116.2Z" stroke="#C00000" stroke-width="1.3" fill="none"/>
<path d="M254.2 110.0L257.5 116.2L250.9 116.2Z" stroke="#C00000" stroke-width="1.3" fill="none"/>
<path d="M267.3 115.0L270.6 121.2L264.0 121.2Z" stroke="#C00000" stroke-width="1.3" fill="none"/>
<path d="M270.5 116.0L273.8 122.2L267.2 122.2Z" stroke="#C00000" stroke-width="1.3" fill="none"/>
<path d="M272.7 112.8L276.0 119.0L269.4 119.0Z" stroke="#C00000" stroke-width="1.3" fill="none"/>
<path d="M262.9 116.0L266.2 122.2L259.6 122.2Z" stroke="#C00000" stroke-width="1.3" fill="none"/>
<path d="M256.4 120.4L259.7 126.6L253.1 126.6Z" stroke="#C00000" stroke-width="1.3" fill="none"/>
<path d="M255.3 128.6L258.6 134.8L252.0 134.8Z" stroke="#C00000" stroke-width="1.3" fill="none"/>
<path d="M299.4 91.0L302.7 97.2L296.1 97.2Z" stroke="#C00000" stroke-width="1.3" fill="none"/>
<path d="M281.4 113.3L284.7 119.5L278.1 119.5Z" stroke="#C00000" stroke-width="1.3" fill="none"/>
<path d="M341.5 114.6L344.8 120.8L338.2 120.8Z" stroke="#C00000" stroke-width="1.3" fill="none"/>
<path d="M355.3 116.1L358.6 122.3L352.0 122.3Z" stroke="#C00000" stroke-width="1.3" fill="none"/>
<path d="M305.8 98.1L309.1 104.3L302.5 104.3Z" stroke="#C00000" stroke-width="1.3" fill="none"/>
<path d="M306.4 101.3L309.7 107.5L303.1 107.5Z" stroke="#C00000" stroke-width="1.3" fill="none"/>
<path d="M306.4 104.6L309.7 110.8L303.1 110.8Z" stroke="#C00000" stroke-width="1.3" fill="none"/>
<path d="M325.4 107.9L328.7 114.1L322.1 114.1Z" stroke="#C00000" stroke-width="1.3" fill="none"/>
<path d="M343.4 111.7L346.7 117.9L340.1 117.9Z" stroke="#C00000" stroke-width="1.3" fill="none"/>
<path d="M302.5 105.7L305.8 111.9L299.2 111.9Z" stroke="#C00000" stroke-width="1.3" fill="none"/>
<path d="M357.6 115.5L360.9 121.7L354.3 121.7Z" stroke="#C00000" stroke-width="1.3" fill="none"/>
<path d="M364.2 110.6L367.5 116.8L360.9 116.8Z" stroke="#C00000" stroke-width="1.3" fill="none"/>
<path d="M391.4 107.3L394.7 113.5L388.1 113.5Z" stroke="#C00000" stroke-width="1.3" fill="none"/>
<path d="M392.0 116.6L395.3 122.8L388.7 122.8Z" stroke="#C00000" stroke-width="1.3" fill="none"/>
<path d="M402.9 104.0L406.2 110.2L399.6 110.2Z" stroke="#C00000" stroke-width="1.3" fill="none"/>
<path d="M425.6 116.1L428.9 122.3L422.3 122.3Z" stroke="#C00000" stroke-width="1.3" fill="none"/>
<path d="M413.7 100.8L417.0 107.0L410.4 107.0Z" stroke="#C00000" stroke-width="1.3" fill="none"/>
<path d="M454.6 98.6L457.9 104.8L451.3 104.8Z" stroke="#C00000" stroke-width="1.3" fill="none"/>
<path d="M425.7 104.6L429.0 110.8L422.4 110.8Z" stroke="#C00000" stroke-width="1.3" fill="none"/>
<path d="M471.0 96.1L474.3 102.3L467.7 102.3Z" stroke="#C00000" stroke-width="1.3" fill="none"/>
<path d="M94.5 103.0L97.8 109.2L91.2 109.2Z" stroke="#C00000" stroke-width="1.3" fill="none"/>
<path d="M116.4 106.6L119.7 112.8L113.1 112.8Z" stroke="#C00000" stroke-width="1.3" fill="none"/>
<path d="M125.5 110.2L128.8 116.4L122.2 116.4Z" stroke="#C00000" stroke-width="1.3" fill="none"/>
<path d="M82.7 113.9L86.0 120.1L79.4 120.1Z" stroke="#C00000" stroke-width="1.3" fill="none"/>
<path d="M95.5 115.7L98.8 121.9L92.2 121.9Z" stroke="#C00000" stroke-width="1.3" fill="none"/>
<path d="M101.8 117.5L105.1 123.7L98.5 123.7Z" stroke="#C00000" stroke-width="1.3" fill="none"/>
<path d="M91.8 123.9L95.1 130.1L88.5 130.1Z" stroke="#C00000" stroke-width="1.3" fill="none"/>
<path d="M120.0 108.4L123.3 114.6L116.7 114.6Z" stroke="#C00000" stroke-width="1.3" fill="none"/>
<path d="M209.1 124.3L212.4 130.5L205.8 130.5Z" stroke="#C00000" stroke-width="1.3" fill="none"/>
<path d="M241.8 118.9L245.1 125.1L238.5 125.1Z" stroke="#C00000" stroke-width="1.3" fill="none"/>
<path d="M89.1 112.7L91.8 115.4L89.1 118.2L86.3 115.4Z" stroke="#7030A0" stroke-width="1.25" fill="none"/>
<path d="M93.4 114.8L96.2 117.6L93.4 120.3L90.7 117.6Z" stroke="#7030A0" stroke-width="1.25" fill="none"/>
<path d="M98.9 114.8L101.7 117.6L98.9 120.3L96.2 117.6Z" stroke="#7030A0" stroke-width="1.25" fill="none"/>
<path d="M103.3 116.5L106.0 119.3L103.3 122.0L100.5 119.3Z" stroke="#7030A0" stroke-width="1.25" fill="none"/>
<path d="M110.9 111.0L113.7 113.8L110.9 116.5L108.2 113.8Z" stroke="#7030A0" stroke-width="1.25" fill="none"/>
<path d="M117.4 111.7L120.2 114.4L117.4 117.2L114.7 114.4Z" stroke="#7030A0" stroke-width="1.25" fill="none"/>
<path d="M121.8 114.3L124.5 117.1L121.8 119.8L119.0 117.1Z" stroke="#7030A0" stroke-width="1.25" fill="none"/>
<path d="M127.3 114.8L130.1 117.6L127.3 120.3L124.5 117.6Z" stroke="#7030A0" stroke-width="1.25" fill="none"/>
<path d="M132.7 114.8L135.4 117.6L132.7 120.3L129.9 117.6Z" stroke="#7030A0" stroke-width="1.25" fill="none"/>
<path d="M142.0 114.5L144.8 117.3L142.0 120.0L139.2 117.3Z" stroke="#7030A0" stroke-width="1.25" fill="none"/>
<path d="M147.4 113.5L150.2 116.2L147.4 119.0L144.7 116.2Z" stroke="#7030A0" stroke-width="1.25" fill="none"/>
<path d="M152.9 111.8L155.7 114.5L152.9 117.2L150.2 114.5Z" stroke="#7030A0" stroke-width="1.25" fill="none"/>
<path d="M157.3 113.5L160.1 116.2L157.3 119.0L154.6 116.2Z" stroke="#7030A0" stroke-width="1.25" fill="none"/>
<path d="M160.5 115.7L163.2 118.4L160.5 121.2L157.8 118.4Z" stroke="#7030A0" stroke-width="1.25" fill="none"/>
<path d="M169.3 116.2L172.1 118.9L169.3 121.7L166.6 118.9Z" stroke="#7030A0" stroke-width="1.25" fill="none"/>
<path d="M173.1 114.5L175.8 117.3L173.1 120.0L170.3 117.3Z" stroke="#7030A0" stroke-width="1.25" fill="none"/>
<path d="M177.4 110.2L180.2 112.9L177.4 115.7L174.7 112.9Z" stroke="#7030A0" stroke-width="1.25" fill="none"/>
<path d="M182.3 117.2L185.1 120.0L182.3 122.8L179.6 120.0Z" stroke="#7030A0" stroke-width="1.25" fill="none"/>
<path d="M186.7 111.8L189.4 114.5L186.7 117.2L183.9 114.5Z" stroke="#7030A0" stroke-width="1.25" fill="none"/>
<path d="M149.6 120.0L152.3 122.7L149.6 125.5L146.8 122.7Z" stroke="#7030A0" stroke-width="1.25" fill="none"/>
<path d="M164.9 110.7L167.7 113.4L164.9 116.2L162.2 113.4Z" stroke="#7030A0" stroke-width="1.25" fill="none"/>
<path d="M192.0 116.7L194.8 119.4L192.0 122.2L189.2 119.4Z" stroke="#7030A0" stroke-width="1.25" fill="none"/>
<path d="M195.8 114.5L198.6 117.3L195.8 120.0L193.1 117.3Z" stroke="#7030A0" stroke-width="1.25" fill="none"/>
<path d="M199.1 117.8L201.8 120.5L199.1 123.2L196.3 120.5Z" stroke="#7030A0" stroke-width="1.25" fill="none"/>
<path d="M203.4 116.7L206.2 119.4L203.4 122.2L200.7 119.4Z" stroke="#7030A0" stroke-width="1.25" fill="none"/>
<path d="M214.4 110.2L217.2 112.9L214.4 115.7L211.7 112.9Z" stroke="#7030A0" stroke-width="1.25" fill="none"/>
<path d="M217.6 113.5L220.3 116.2L217.6 119.0L214.8 116.2Z" stroke="#7030A0" stroke-width="1.25" fill="none"/>
<path d="M223.6 105.2L226.3 108.0L223.6 110.8L220.8 108.0Z" stroke="#7030A0" stroke-width="1.25" fill="none"/>
<path d="M224.2 114.5L226.9 117.3L224.2 120.0L221.4 117.3Z" stroke="#7030A0" stroke-width="1.25" fill="none"/>
<path d="M234.0 105.2L236.8 108.0L234.0 110.8L231.2 108.0Z" stroke="#7030A0" stroke-width="1.25" fill="none"/>
<path d="M237.3 108.0L240.1 110.7L237.3 113.5L234.6 110.7Z" stroke="#7030A0" stroke-width="1.25" fill="none"/>
<path d="M240.5 111.2L243.2 114.0L240.5 116.8L237.8 114.0Z" stroke="#7030A0" stroke-width="1.25" fill="none"/>
<path d="M244.9 109.0L247.7 111.8L244.9 114.5L242.2 111.8Z" stroke="#7030A0" stroke-width="1.25" fill="none"/>
<path d="M231.8 120.0L234.6 122.7L231.8 125.5L229.1 122.7Z" stroke="#7030A0" stroke-width="1.25" fill="none"/>
<path d="M218.7 118.8L221.4 121.6L218.7 124.3L215.9 121.6Z" stroke="#7030A0" stroke-width="1.25" fill="none"/>
<path d="M210.5 121.0L213.2 123.8L210.5 126.5L207.8 123.8Z" stroke="#7030A0" stroke-width="1.25" fill="none"/>
<path d="M258.5 121.8L261.2 124.5L258.5 127.2L255.8 124.5Z" stroke="#7030A0" stroke-width="1.25" fill="none"/>
<path d="M267.3 124.8L270.1 127.5L267.3 130.2L264.6 127.5Z" stroke="#7030A0" stroke-width="1.25" fill="none"/>
<path d="M251.3 118.2L254.1 120.9L251.3 123.7L248.6 120.9Z" stroke="#7030A0" stroke-width="1.25" fill="none"/>
<path d="M247.6 112.3L250.3 115.1L247.6 117.8L244.8 115.1Z" stroke="#7030A0" stroke-width="1.25" fill="none"/>
<path d="M260.7 121.0L263.4 123.8L260.7 126.5L257.9 123.8Z" stroke="#7030A0" stroke-width="1.25" fill="none"/>
<path d="M263.4 113.5L266.1 116.2L263.4 119.0L260.6 116.2Z" stroke="#7030A0" stroke-width="1.25" fill="none"/>
<path d="M269.4 112.3L272.1 115.1L269.4 117.8L266.6 115.1Z" stroke="#7030A0" stroke-width="1.25" fill="none"/>
<path d="M272.7 118.8L275.4 121.6L272.7 124.3L269.9 121.6Z" stroke="#7030A0" stroke-width="1.25" fill="none"/>
<path d="M276.0 120.0L278.8 122.7L276.0 125.5L273.2 122.7Z" stroke="#7030A0" stroke-width="1.25" fill="none"/>
<path d="M279.3 117.8L282.1 120.5L279.3 123.2L276.6 120.5Z" stroke="#7030A0" stroke-width="1.25" fill="none"/>
<path d="M283.6 115.0L286.4 117.8L283.6 120.5L280.9 117.8Z" stroke="#7030A0" stroke-width="1.25" fill="none"/>
<path d="M286.9 121.0L289.6 123.8L286.9 126.5L284.1 123.8Z" stroke="#7030A0" stroke-width="1.25" fill="none"/>
<path d="M290.2 121.0L292.9 123.8L290.2 126.5L287.4 123.8Z" stroke="#7030A0" stroke-width="1.25" fill="none"/>
<path d="M293.4 109.7L296.1 112.4L293.4 115.2L290.6 112.4Z" stroke="#7030A0" stroke-width="1.25" fill="none"/>
<path d="M296.7 109.0L299.4 111.8L296.7 114.5L293.9 111.8Z" stroke="#7030A0" stroke-width="1.25" fill="none"/>
<path d="M283.3 117.5L286.1 120.2L283.3 123.0L280.6 120.2Z" stroke="#7030A0" stroke-width="1.25" fill="none"/>
<path d="M308.7 117.5L311.4 120.2L308.7 123.0L305.9 120.2Z" stroke="#7030A0" stroke-width="1.25" fill="none"/>
<path d="M319.6 121.0L322.4 123.8L319.6 126.5L316.9 123.8Z" stroke="#7030A0" stroke-width="1.25" fill="none"/>
<path d="M344.4 122.5L347.1 125.3L344.4 128.1L341.6 125.3Z" stroke="#7030A0" stroke-width="1.25" fill="none"/>
<path d="M347.3 126.2L350.1 128.9L347.3 131.7L344.6 128.9Z" stroke="#7030A0" stroke-width="1.25" fill="none"/>
<path d="M302.0 107.5L304.8 110.2L302.0 113.0L299.2 110.2Z" stroke="#7030A0" stroke-width="1.25" fill="none"/>
<path d="M305.8 112.3L308.6 115.1L305.8 117.8L303.1 115.1Z" stroke="#7030A0" stroke-width="1.25" fill="none"/>
<path d="M311.8 110.7L314.6 113.4L311.8 116.2L309.1 113.4Z" stroke="#7030A0" stroke-width="1.25" fill="none"/>
<path d="M315.1 106.8L317.9 109.6L315.1 112.3L312.4 109.6Z" stroke="#7030A0" stroke-width="1.25" fill="none"/>
<path d="M324.9 105.8L327.6 108.5L324.9 111.2L322.1 108.5Z" stroke="#7030A0" stroke-width="1.25" fill="none"/>
<path d="M328.2 106.3L330.9 109.1L328.2 111.8L325.4 109.1Z" stroke="#7030A0" stroke-width="1.25" fill="none"/>
<path d="M331.4 106.3L334.1 109.1L331.4 111.8L328.6 109.1Z" stroke="#7030A0" stroke-width="1.25" fill="none"/>
<path d="M334.7 106.3L337.4 109.1L334.7 111.8L331.9 109.1Z" stroke="#7030A0" stroke-width="1.25" fill="none"/>
<path d="M338.0 108.5L340.8 111.3L338.0 114.0L335.2 111.3Z" stroke="#7030A0" stroke-width="1.25" fill="none"/>
<path d="M341.3 103.7L344.1 106.4L341.3 109.2L338.6 106.4Z" stroke="#7030A0" stroke-width="1.25" fill="none"/>
<path d="M350.5 106.8L353.2 109.6L350.5 112.3L347.8 109.6Z" stroke="#7030A0" stroke-width="1.25" fill="none"/>
<path d="M353.8 108.0L356.6 110.7L353.8 113.5L351.1 110.7Z" stroke="#7030A0" stroke-width="1.25" fill="none"/>
<path d="M322.2 122.2L324.9 124.9L322.2 127.7L319.4 124.9Z" stroke="#7030A0" stroke-width="1.25" fill="none"/>
<path d="M357.6 104.7L360.4 107.4L357.6 110.2L354.9 107.4Z" stroke="#7030A0" stroke-width="1.25" fill="none"/>
<path d="M364.2 106.3L366.9 109.1L364.2 111.8L361.4 109.1Z" stroke="#7030A0" stroke-width="1.25" fill="none"/>
<path d="M367.4 114.0L370.1 116.7L367.4 119.5L364.6 116.7Z" stroke="#7030A0" stroke-width="1.25" fill="none"/>
<path d="M370.7 106.8L373.4 109.6L370.7 112.3L367.9 109.6Z" stroke="#7030A0" stroke-width="1.25" fill="none"/>
<path d="M374.0 114.0L376.8 116.7L374.0 119.5L371.2 116.7Z" stroke="#7030A0" stroke-width="1.25" fill="none"/>
<path d="M377.3 108.0L380.1 110.7L377.3 113.5L374.6 110.7Z" stroke="#7030A0" stroke-width="1.25" fill="none"/>
<path d="M380.5 110.2L383.2 112.9L380.5 115.7L377.8 112.9Z" stroke="#7030A0" stroke-width="1.25" fill="none"/>
<path d="M387.1 117.2L389.9 120.0L387.1 122.8L384.4 120.0Z" stroke="#7030A0" stroke-width="1.25" fill="none"/>
<path d="M390.3 110.2L393.1 112.9L390.3 115.7L387.6 112.9Z" stroke="#7030A0" stroke-width="1.25" fill="none"/>
<path d="M396.9 106.8L399.6 109.6L396.9 112.3L394.1 109.6Z" stroke="#7030A0" stroke-width="1.25" fill="none"/>
<path d="M400.2 105.8L402.9 108.5L400.2 111.2L397.4 108.5Z" stroke="#7030A0" stroke-width="1.25" fill="none"/>
<path d="M406.7 111.8L409.4 114.5L406.7 117.2L403.9 114.5Z" stroke="#7030A0" stroke-width="1.25" fill="none"/>
<path d="M383.8 125.4L386.6 128.2L383.8 130.9L381.1 128.2Z" stroke="#7030A0" stroke-width="1.25" fill="none"/>
<path d="M393.6 123.2L396.4 126.0L393.6 128.8L390.9 126.0Z" stroke="#7030A0" stroke-width="1.25" fill="none"/>
<path d="M403.4 124.3L406.1 127.1L403.4 129.8L400.6 127.1Z" stroke="#7030A0" stroke-width="1.25" fill="none"/>
<path d="M360.9 136.3L363.6 139.1L360.9 141.8L358.1 139.1Z" stroke="#7030A0" stroke-width="1.25" fill="none"/>
<path d="M409.9 109.7L412.6 112.4L409.9 115.2L407.1 112.4Z" stroke="#7030A0" stroke-width="1.25" fill="none"/>
<path d="M413.2 112.8L415.9 115.6L413.2 118.3L410.4 115.6Z" stroke="#7030A0" stroke-width="1.25" fill="none"/>
<path d="M416.5 115.0L419.2 117.8L416.5 120.5L413.8 117.8Z" stroke="#7030A0" stroke-width="1.25" fill="none"/>
<path d="M419.7 115.7L422.4 118.4L419.7 121.2L416.9 118.4Z" stroke="#7030A0" stroke-width="1.25" fill="none"/>
<path d="M423.0 112.3L425.8 115.1L423.0 117.8L420.2 115.1Z" stroke="#7030A0" stroke-width="1.25" fill="none"/>
<path d="M426.3 107.5L429.1 110.2L426.3 113.0L423.6 110.2Z" stroke="#7030A0" stroke-width="1.25" fill="none"/>
<path d="M429.5 106.3L432.2 109.1L429.5 111.8L426.8 109.1Z" stroke="#7030A0" stroke-width="1.25" fill="none"/>
<path d="M432.8 112.3L435.6 115.1L432.8 117.8L430.1 115.1Z" stroke="#7030A0" stroke-width="1.25" fill="none"/>
<path d="M436.1 109.7L438.9 112.4L436.1 115.2L433.4 112.4Z" stroke="#7030A0" stroke-width="1.25" fill="none"/>
<path d="M439.4 106.8L442.1 109.6L439.4 112.3L436.6 109.6Z" stroke="#7030A0" stroke-width="1.25" fill="none"/>
<path d="M442.6 117.8L445.4 120.5L442.6 123.2L439.9 120.5Z" stroke="#7030A0" stroke-width="1.25" fill="none"/>
<path d="M445.9 113.5L448.6 116.2L445.9 119.0L443.1 116.2Z" stroke="#7030A0" stroke-width="1.25" fill="none"/>
<path d="M86.4 113.7L89.2 116.4L86.4 119.2L83.7 116.4Z" stroke="#7030A0" stroke-width="1.25" fill="none"/>
<path d="M89.1 115.5L91.8 118.2L89.1 121.0L86.3 118.2Z" stroke="#7030A0" stroke-width="1.25" fill="none"/>
<path d="M105.5 110.0L108.2 112.7L105.5 115.5L102.8 112.7Z" stroke="#7030A0" stroke-width="1.25" fill="none"/>
<path d="M114.5 113.7L117.2 116.4L114.5 119.2L111.8 116.4Z" stroke="#7030A0" stroke-width="1.25" fill="none"/>
<path d="M98.2 118.2L101.0 120.9L98.2 123.7L95.5 120.9Z" stroke="#7030A0" stroke-width="1.25" fill="none"/>
<path d="M218.2 107.8L220.9 110.5L218.2 113.2L215.4 110.5Z" stroke="#7030A0" stroke-width="1.25" fill="none"/>
<path d="M229.0 110.5L231.8 113.2L229.0 116.0L226.2 113.2Z" stroke="#7030A0" stroke-width="1.25" fill="none"/>
<path d="M245.5 112.2L248.2 115.0L245.5 117.8L242.8 115.0Z" stroke="#7030A0" stroke-width="1.25" fill="none"/>
<path d="M256.4 114.0L259.1 116.8L256.4 119.5L253.6 116.8Z" stroke="#7030A0" stroke-width="1.25" fill="none"/>
<path d="M212.7 117.8L215.4 120.5L212.7 123.2L209.9 120.5Z" stroke="#7030A0" stroke-width="1.25" fill="none"/>
<path d="M220.0 115.8L222.8 118.6L220.0 121.3L217.2 118.6Z" stroke="#7030A0" stroke-width="1.25" fill="none"/>
<path d="M155.5 112.5L158.2 115.3L155.5 118.0L152.8 115.3Z" stroke="#7030A0" stroke-width="1.25" fill="none"/>
<path d="M162.0 114.2L164.8 116.9L162.0 119.7L159.2 116.9Z" stroke="#7030A0" stroke-width="1.25" fill="none"/>
<path d="M166.4 113.7L169.2 116.4L166.4 119.2L163.7 116.4Z" stroke="#7030A0" stroke-width="1.25" fill="none"/>
<path d="M179.4 110.3L182.2 113.1L179.4 115.8L176.7 113.1Z" stroke="#7030A0" stroke-width="1.25" fill="none"/>
<path d="M189.3 112.5L192.1 115.3L189.3 118.0L186.6 115.3Z" stroke="#7030A0" stroke-width="1.25" fill="none"/>
<path d="M201.3 116.3L204.1 119.1L201.3 121.8L198.6 119.1Z" stroke="#7030A0" stroke-width="1.25" fill="none"/>
<path d="M94.4 110.5H101.2M97.8 107.1V113.9" stroke="#FFC000" stroke-width="1.4" fill="none"/>
<path d="M91.1 114.9H97.9M94.5 111.5V118.3" stroke="#FFC000" stroke-width="1.4" fill="none"/>
<path d="M101.0 113.8H107.8M104.4 110.4V117.2" stroke="#FFC000" stroke-width="1.4" fill="none"/>
<path d="M104.2 116.0H111.0M107.6 112.6V119.4" stroke="#FFC000" stroke-width="1.4" fill="none"/>
<path d="M110.8 113.8H117.6M114.2 110.4V117.2" stroke="#FFC000" stroke-width="1.4" fill="none"/>
<path d="M114.0 107.3H120.8M117.4 103.9V110.7" stroke="#FFC000" stroke-width="1.4" fill="none"/>
<path d="M119.5 104.0H126.3M122.9 100.6V107.4" stroke="#FFC000" stroke-width="1.4" fill="none"/>
<path d="M131.5 102.9H138.3M134.9 99.5V106.3" stroke="#FFC000" stroke-width="1.4" fill="none"/>
<path d="M129.3 112.2H136.1M132.7 108.8V115.6" stroke="#FFC000" stroke-width="1.4" fill="none"/>
<path d="M107.5 123.6H114.3M110.9 120.2V127.0" stroke="#FFC000" stroke-width="1.4" fill="none"/>
<path d="M117.3 122.0H124.1M120.7 118.6V125.4" stroke="#FFC000" stroke-width="1.4" fill="none"/>
<path d="M123.9 123.1H130.7M127.3 119.7V126.5" stroke="#FFC000" stroke-width="1.4" fill="none"/>
<path d="M127.1 123.6H133.9M130.5 120.2V127.0" stroke="#FFC000" stroke-width="1.4" fill="none"/>
<path d="M84.6 127.4H91.4M88.0 124.0V130.8" stroke="#FFC000" stroke-width="1.4" fill="none"/>
<path d="M97.7 130.9H104.5M101.1 127.5V134.3" stroke="#FFC000" stroke-width="1.4" fill="none"/>
<path d="M143.0 127.7H149.8M146.4 124.3V131.1" stroke="#FFC000" stroke-width="1.4" fill="none"/>
<path d="M137.5 111.8H144.3M140.9 108.4V115.2" stroke="#FFC000" stroke-width="1.4" fill="none"/>
<path d="M146.2 119.4H153.0M149.6 116.0V122.8" stroke="#FFC000" stroke-width="1.4" fill="none"/>
<path d="M150.0 123.3H156.8M153.4 119.9V126.7" stroke="#FFC000" stroke-width="1.4" fill="none"/>
<path d="M158.2 110.2H165.0M161.6 106.8V113.6" stroke="#FFC000" stroke-width="1.4" fill="none"/>
<path d="M163.1 108.5H169.9M166.5 105.1V111.9" stroke="#FFC000" stroke-width="1.4" fill="none"/>
<path d="M168.0 108.5H174.8M171.4 105.1V111.9" stroke="#FFC000" stroke-width="1.4" fill="none"/>
<path d="M172.4 110.2H179.2M175.8 106.8V113.6" stroke="#FFC000" stroke-width="1.4" fill="none"/>
<path d="M178.9 109.1H185.7M182.3 105.7V112.5" stroke="#FFC000" stroke-width="1.4" fill="none"/>
<path d="M184.4 114.0H191.2M187.8 110.6V117.4" stroke="#FFC000" stroke-width="1.4" fill="none"/>
<path d="M181.1 117.3H187.9M184.5 113.9V120.7" stroke="#FFC000" stroke-width="1.4" fill="none"/>
<path d="M153.9 111.8H160.7M157.3 108.4V115.2" stroke="#FFC000" stroke-width="1.4" fill="none"/>
<path d="M128.2 119.4H135.0M131.6 116.0V122.8" stroke="#FFC000" stroke-width="1.4" fill="none"/>
<path d="M185.9 111.3H192.7M189.3 107.9V114.7" stroke="#FFC000" stroke-width="1.4" fill="none"/>
<path d="M189.7 111.8H196.5M193.1 108.4V115.2" stroke="#FFC000" stroke-width="1.4" fill="none"/>
<path d="M196.8 115.6H203.6M200.2 112.2V119.0" stroke="#FFC000" stroke-width="1.4" fill="none"/>
<path d="M202.2 117.3H209.0M205.6 113.9V120.7" stroke="#FFC000" stroke-width="1.4" fill="none"/>
<path d="M208.2 107.4H215.0M211.6 104.0V110.8" stroke="#FFC000" stroke-width="1.4" fill="none"/>
<path d="M211.5 113.4H218.3M214.9 110.0V116.8" stroke="#FFC000" stroke-width="1.4" fill="none"/>
<path d="M214.2 111.3H221.0M217.6 107.9V114.7" stroke="#FFC000" stroke-width="1.4" fill="none"/>
<path d="M218.6 110.7H225.4M222.0 107.3V114.1" stroke="#FFC000" stroke-width="1.4" fill="none"/>
<path d="M221.3 113.4H228.1M224.7 110.0V116.8" stroke="#FFC000" stroke-width="1.4" fill="none"/>
<path d="M224.0 112.4H230.8M227.4 109.0V115.8" stroke="#FFC000" stroke-width="1.4" fill="none"/>
<path d="M228.4 114.0H235.2M231.8 110.6V117.4" stroke="#FFC000" stroke-width="1.4" fill="none"/>
<path d="M232.8 113.4H239.6M236.2 110.0V116.8" stroke="#FFC000" stroke-width="1.4" fill="none"/>
<path d="M226.2 118.9H233.0M229.6 115.5V122.3" stroke="#FFC000" stroke-width="1.4" fill="none"/>
<path d="M230.6 118.9H237.4M234.0 115.5V122.3" stroke="#FFC000" stroke-width="1.4" fill="none"/>
<path d="M236.0 120.5H242.8M239.4 117.1V123.9" stroke="#FFC000" stroke-width="1.4" fill="none"/>
<path d="M239.3 111.3H246.1M242.7 107.9V114.7" stroke="#FFC000" stroke-width="1.4" fill="none"/>
<path d="M243.1 108.5H249.9M246.5 105.1V111.9" stroke="#FFC000" stroke-width="1.4" fill="none"/>
<path d="M246.4 111.8H253.2M249.8 108.4V115.2" stroke="#FFC000" stroke-width="1.4" fill="none"/>
<path d="M249.7 116.2H256.5M253.1 112.8V119.6" stroke="#FFC000" stroke-width="1.4" fill="none"/>
<path d="M253.0 113.4H259.8M256.4 110.0V116.8" stroke="#FFC000" stroke-width="1.4" fill="none"/>
<path d="M239.9 127.1H246.7M243.3 123.7V130.5" stroke="#FFC000" stroke-width="1.4" fill="none"/>
<path d="M216.6 113.2H223.4M220.0 109.8V116.6" stroke="#FFC000" stroke-width="1.4" fill="none"/>
<path d="M227.5 116.8H234.3M230.9 113.4V120.2" stroke="#FFC000" stroke-width="1.4" fill="none"/>
<path d="M233.0 118.6H239.8M236.4 115.2V122.0" stroke="#FFC000" stroke-width="1.4" fill="none"/>
<path d="M236.6 116.8H243.4M240.0 113.4V120.2" stroke="#FFC000" stroke-width="1.4" fill="none"/>
<path d="M205.7 116.8H212.5M209.1 113.4V120.2" stroke="#FFC000" stroke-width="1.4" fill="none"/>
<path d="M198.4 118.6H205.2M201.8 115.2V122.0" stroke="#FFC000" stroke-width="1.4" fill="none"/>
<path d="M160.8 108.7H167.6M164.2 105.3V112.1" stroke="#FFC000" stroke-width="1.4" fill="none"/>
<path d="M164.6 110.4H171.4M168.0 107.0V113.8" stroke="#FFC000" stroke-width="1.4" fill="none"/>
<path d="M175.0 108.7H181.8M178.4 105.3V112.1" stroke="#FFC000" stroke-width="1.4" fill="none"/>
<path d="M181.5 113.1H188.3M184.9 109.7V116.5" stroke="#FFC000" stroke-width="1.4" fill="none"/>
<path d="M188.0 110.4H194.8M191.4 107.0V113.8" stroke="#FFC000" stroke-width="1.4" fill="none"/>
<path d="M194.6 114.2H201.4M198.0 110.8V117.6" stroke="#FFC000" stroke-width="1.4" fill="none"/>
<path d="M152.1 121.8H158.9M155.5 118.4V125.2" stroke="#FFC000" stroke-width="1.4" fill="none"/>
<path d="M181.5 115.3H188.3M184.9 111.9V118.7" stroke="#FFC000" stroke-width="1.4" fill="none"/>
<circle cx="277.4" cy="36.0" r="3.6" fill="#000"/>
<text x="299" y="40.0" class="lg">Wuhan Hyro-Power Institute method</text>
<path d="M273.9 45.1L280.8 52.0M273.9 52.0L280.8 45.1" stroke="#468EDC" stroke-width="1.35" fill="none"/>
<text x="299" y="52.5" class="lg">Raju &amp; Soni method</text>
<path d="M277.4 57.7L280.7 63.9L274.1 63.9Z" stroke="#C00000" stroke-width="1.3" fill="none"/>
<text x="299" y="65.1" class="lg">Van Rijn method</text>
<path d="M277.4 70.8L280.3 73.7L277.4 76.6L274.5 73.7Z" stroke="#7030A0" stroke-width="1.2" fill="none"/>
<text x="299" y="77.7" class="lg">Proposed method (θ/θcr≤7.5)</text>
<path d="M274.0 86.2H280.8M277.4 82.8V89.6" stroke="#FFC000" stroke-width="1.4" fill="none"/>
<text x="299" y="90.2" class="lg">Proposed method (7.5≤θ/θcr≤250)</text>
<rect x="69" y="298.5" width="461" height="172.89999999999998" fill="none" stroke="#000" stroke-width="1.5"/>
<path d="M82.17 471.4V468.2M95.34 471.4V468.2M108.51 471.4V468.2M121.69 471.4V468.2M134.86 471.4V468.2M148.03 471.4V468.2M161.20 471.4V468.2M174.37 471.4V468.2M187.54 471.4V468.2M200.71 471.4V468.2M213.89 471.4V468.2M227.06 471.4V468.2M240.23 471.4V468.2M253.40 471.4V468.2M266.57 471.4V468.2M279.74 471.4V468.2M292.91 471.4V468.2M306.09 471.4V468.2M319.26 471.4V468.2M332.43 471.4V468.2M345.60 471.4V468.2M358.77 471.4V468.2M371.94 471.4V468.2M385.11 471.4V468.2M398.29 471.4V468.2M411.46 471.4V468.2M424.63 471.4V468.2M437.80 471.4V468.2M450.97 471.4V468.2M464.14 471.4V468.2M477.31 471.4V468.2M490.49 471.4V468.2M503.66 471.4V468.2M516.83 471.4V468.2M69 458.39H72.2M69 450.78H72.2M69 445.38H72.2M69 441.19H72.2M69 437.76H72.2M69 434.87H72.2M69 432.36H72.2M69 430.15H72.2M69 415.16H72.2M69 407.55H72.2M69 402.15H72.2M69 397.96H72.2M69 394.54H72.2M69 391.65H72.2M69 389.14H72.2M69 386.93H72.2M69 371.94H72.2M69 364.33H72.2M69 358.93H72.2M69 354.74H72.2M69 351.31H72.2M69 348.42H72.2M69 345.91H72.2M69 343.70H72.2M69 328.71H72.2M69 321.10H72.2M69 315.70H72.2M69 311.51H72.2M69 308.09H72.2M69 305.20H72.2M69 302.69H72.2M69 300.48H72.2" stroke="#000" stroke-width="1.2" fill="none"/>
<text x="69.0" y="490.9" text-anchor="middle" class="tk">0</text>
<text x="134.9" y="490.9" text-anchor="middle" class="tk">20</text>
<text x="200.7" y="490.9" text-anchor="middle" class="tk">40</text>
<text x="266.6" y="490.9" text-anchor="middle" class="tk">60</text>
<text x="332.4" y="490.9" text-anchor="middle" class="tk">80</text>
<text x="398.3" y="490.9" text-anchor="middle" class="tk">100</text>
<text x="464.1" y="490.9" text-anchor="middle" class="tk">120</text>
<text x="530.0" y="490.9" text-anchor="middle" class="tk">140</text>
<text x="58" y="475.2" text-anchor="end" class="tk">0.01</text>
<text x="58" y="432.0" text-anchor="end" class="tk">0.1</text>
<text x="58" y="388.8" text-anchor="end" class="tk">1</text>
<text x="58" y="345.5" text-anchor="end" class="tk">10</text>
<text x="58" y="302.3" text-anchor="end" class="tk">100</text>
<text x="148.3" y="290" class="ttl" textLength="257.8" lengthAdjust="spacingAndGlyphs">Bed-form length in upper flow regime</text>
<text transform="translate(17.6,448.8) rotate(-90)" class="ax" font-size="13.6" textLength="127.8" lengthAdjust="spacingAndGlyphs">Ratio of observed data</text>
<text transform="translate(32.6,440.9) rotate(-90)" class="ax" font-size="13.6" textLength="112.9" lengthAdjust="spacingAndGlyphs">to calculated results</text>
<text x="225.1" y="509.9" class="ax" textLength="134" lengthAdjust="spacingAndGlyphs">Particle size parameter,</text>
<text x="363.7" y="509.9" class="ax" font-style="italic">d</text>
<text x="369.7" y="512.8" class="ax" font-style="italic" font-size="9.5" textLength="8" lengthAdjust="spacingAndGlyphs">gr</text>
<text x="268.9" y="534.4" class="cap" textLength="15.2" lengthAdjust="spacingAndGlyphs">(b)</text>
<path d="M69 384.95H530" stroke="#000" stroke-width="1.6"/>
<path d="M69 377.34H530M69 397.96H530" stroke="#000" stroke-width="1.6" stroke-dasharray="5 4.33"/>
<rect x="116.7" y="328.1" width="4.8" height="4.8" stroke="#000" stroke-width="1.35" fill="none"/>
<rect x="108.7" y="347.8" width="4.8" height="4.8" stroke="#000" stroke-width="1.35" fill="none"/>
<rect x="126.1" y="352.9" width="4.8" height="4.8" stroke="#000" stroke-width="1.35" fill="none"/>
<rect x="71.6" y="352.9" width="4.8" height="4.8" stroke="#000" stroke-width="1.35" fill="none"/>
<rect x="111.6" y="353.6" width="4.8" height="4.8" stroke="#000" stroke-width="1.35" fill="none"/>
<rect x="101.4" y="354.3" width="4.8" height="4.8" stroke="#000" stroke-width="1.35" fill="none"/>
<rect x="105.8" y="355.1" width="4.8" height="4.8" stroke="#000" stroke-width="1.35" fill="none"/>
<rect x="101.2" y="357.4" width="4.8" height="4.8" stroke="#000" stroke-width="1.35" fill="none"/>
<rect x="105.6" y="358.5" width="4.8" height="4.8" stroke="#000" stroke-width="1.35" fill="none"/>
<rect x="110.5" y="359.1" width="4.8" height="4.8" stroke="#000" stroke-width="1.35" fill="none"/>
<rect x="115.9" y="360.7" width="4.8" height="4.8" stroke="#000" stroke-width="1.35" fill="none"/>
<rect x="84.3" y="362.3" width="4.8" height="4.8" stroke="#000" stroke-width="1.35" fill="none"/>
<rect x="101.2" y="362.3" width="4.8" height="4.8" stroke="#000" stroke-width="1.35" fill="none"/>
<rect x="105.0" y="364.0" width="4.8" height="4.8" stroke="#000" stroke-width="1.35" fill="none"/>
<rect x="71.2" y="367.2" width="4.8" height="4.8" stroke="#000" stroke-width="1.35" fill="none"/>
<rect x="79.4" y="369.4" width="4.8" height="4.8" stroke="#000" stroke-width="1.35" fill="none"/>
<rect x="91.4" y="367.8" width="4.8" height="4.8" stroke="#000" stroke-width="1.35" fill="none"/>
<rect x="87.0" y="371.0" width="4.8" height="4.8" stroke="#000" stroke-width="1.35" fill="none"/>
<rect x="101.2" y="368.9" width="4.8" height="4.8" stroke="#000" stroke-width="1.35" fill="none"/>
<rect x="107.2" y="368.9" width="4.8" height="4.8" stroke="#000" stroke-width="1.35" fill="none"/>
<rect x="105.0" y="372.7" width="4.8" height="4.8" stroke="#000" stroke-width="1.35" fill="none"/>
<rect x="117.0" y="372.7" width="4.8" height="4.8" stroke="#000" stroke-width="1.35" fill="none"/>
<rect x="70.1" y="372.1" width="4.8" height="4.8" stroke="#000" stroke-width="1.35" fill="none"/>
<rect x="74.5" y="372.7" width="4.8" height="4.8" stroke="#000" stroke-width="1.35" fill="none"/>
<rect x="81.0" y="373.8" width="4.8" height="4.8" stroke="#000" stroke-width="1.35" fill="none"/>
<rect x="92.0" y="372.7" width="4.8" height="4.8" stroke="#000" stroke-width="1.35" fill="none"/>
<rect x="96.3" y="376.0" width="4.8" height="4.8" stroke="#000" stroke-width="1.35" fill="none"/>
<rect x="89.8" y="374.9" width="4.8" height="4.8" stroke="#000" stroke-width="1.35" fill="none"/>
<rect x="84.3" y="375.4" width="4.8" height="4.8" stroke="#000" stroke-width="1.35" fill="none"/>
<rect x="70.1" y="377.0" width="4.8" height="4.8" stroke="#000" stroke-width="1.35" fill="none"/>
<rect x="68.0" y="379.2" width="4.8" height="4.8" stroke="#000" stroke-width="1.35" fill="none"/>
<rect x="68.0" y="382.5" width="4.8" height="4.8" stroke="#000" stroke-width="1.35" fill="none"/>
<rect x="68.0" y="385.8" width="4.8" height="4.8" stroke="#000" stroke-width="1.35" fill="none"/>
<rect x="68.0" y="389.0" width="4.8" height="4.8" stroke="#000" stroke-width="1.35" fill="none"/>
<rect x="76.7" y="377.0" width="4.8" height="4.8" stroke="#000" stroke-width="1.35" fill="none"/>
<rect x="83.2" y="384.7" width="4.8" height="4.8" stroke="#000" stroke-width="1.35" fill="none"/>
<rect x="90.9" y="385.8" width="4.8" height="4.8" stroke="#000" stroke-width="1.35" fill="none"/>
<rect x="105.0" y="388.5" width="4.8" height="4.8" stroke="#000" stroke-width="1.35" fill="none"/>
<rect x="68.0" y="375.6" width="4.8" height="4.8" stroke="#000" stroke-width="1.35" fill="none"/>
<rect x="68.0" y="384.1" width="4.8" height="4.8" stroke="#000" stroke-width="1.35" fill="none"/>
<rect x="68.0" y="387.4" width="4.8" height="4.8" stroke="#000" stroke-width="1.35" fill="none"/>
<rect x="70.4" y="379.6" width="4.8" height="4.8" stroke="#000" stroke-width="1.35" fill="none"/>
<rect x="70.4" y="385.1" width="4.8" height="4.8" stroke="#000" stroke-width="1.35" fill="none"/>
<rect x="70.4" y="390.1" width="4.8" height="4.8" stroke="#000" stroke-width="1.35" fill="none"/>
<rect x="68.0" y="391.1" width="4.8" height="4.8" stroke="#000" stroke-width="1.35" fill="none"/>
<rect x="148.0" y="317.6" width="4.8" height="4.8" stroke="#000" stroke-width="1.35" fill="none"/>
<rect x="163.4" y="319.8" width="4.8" height="4.8" stroke="#000" stroke-width="1.35" fill="none"/>
<rect x="204.0" y="330.7" width="4.8" height="4.8" stroke="#000" stroke-width="1.35" fill="none"/>
<rect x="219.4" y="332.1" width="4.8" height="4.8" stroke="#000" stroke-width="1.35" fill="none"/>
<rect x="231.6" y="334.0" width="4.8" height="4.8" stroke="#000" stroke-width="1.35" fill="none"/>
<rect x="195.8" y="336.7" width="4.8" height="4.8" stroke="#000" stroke-width="1.35" fill="none"/>
<rect x="197.6" y="340.3" width="4.8" height="4.8" stroke="#000" stroke-width="1.35" fill="none"/>
<rect x="195.4" y="339.8" width="4.8" height="4.8" stroke="#000" stroke-width="1.35" fill="none"/>
<rect x="201.2" y="343.4" width="4.8" height="4.8" stroke="#000" stroke-width="1.35" fill="none"/>
<rect x="213.1" y="340.9" width="4.8" height="4.8" stroke="#000" stroke-width="1.35" fill="none"/>
<rect x="217.6" y="340.9" width="4.8" height="4.8" stroke="#000" stroke-width="1.35" fill="none"/>
<rect x="222.7" y="340.9" width="4.8" height="4.8" stroke="#000" stroke-width="1.35" fill="none"/>
<rect x="228.5" y="342.1" width="4.8" height="4.8" stroke="#000" stroke-width="1.35" fill="none"/>
<rect x="234.0" y="340.3" width="4.8" height="4.8" stroke="#000" stroke-width="1.35" fill="none"/>
<rect x="209.4" y="345.2" width="4.8" height="4.8" stroke="#000" stroke-width="1.35" fill="none"/>
<rect x="210.3" y="349.4" width="4.8" height="4.8" stroke="#000" stroke-width="1.35" fill="none"/>
<rect x="214.0" y="351.2" width="4.8" height="4.8" stroke="#000" stroke-width="1.35" fill="none"/>
<rect x="209.4" y="352.1" width="4.8" height="4.8" stroke="#000" stroke-width="1.35" fill="none"/>
<rect x="204.0" y="354.0" width="4.8" height="4.8" stroke="#000" stroke-width="1.35" fill="none"/>
<rect x="219.4" y="354.3" width="4.8" height="4.8" stroke="#000" stroke-width="1.35" fill="none"/>
<rect x="226.7" y="353.1" width="4.8" height="4.8" stroke="#000" stroke-width="1.35" fill="none"/>
<rect x="228.5" y="347.6" width="4.8" height="4.8" stroke="#000" stroke-width="1.35" fill="none"/>
<rect x="230.3" y="349.4" width="4.8" height="4.8" stroke="#000" stroke-width="1.35" fill="none"/>
<rect x="154.9" y="360.3" width="4.8" height="4.8" stroke="#000" stroke-width="1.35" fill="none"/>
<rect x="154.9" y="364.9" width="4.8" height="4.8" stroke="#000" stroke-width="1.35" fill="none"/>
<rect x="145.2" y="365.8" width="4.8" height="4.8" stroke="#000" stroke-width="1.35" fill="none"/>
<rect x="238.5" y="340.9" width="4.8" height="4.8" stroke="#000" stroke-width="1.35" fill="none"/>
<rect x="244.5" y="343.1" width="4.8" height="4.8" stroke="#000" stroke-width="1.35" fill="none"/>
<rect x="247.2" y="329.4" width="4.8" height="4.8" stroke="#000" stroke-width="1.35" fill="none"/>
<rect x="252.7" y="327.6" width="4.8" height="4.8" stroke="#000" stroke-width="1.35" fill="none"/>
<rect x="247.6" y="334.9" width="4.8" height="4.8" stroke="#000" stroke-width="1.35" fill="none"/>
<rect x="247.6" y="339.4" width="4.8" height="4.8" stroke="#000" stroke-width="1.35" fill="none"/>
<rect x="254.9" y="334.0" width="4.8" height="4.8" stroke="#000" stroke-width="1.35" fill="none"/>
<rect x="254.9" y="336.7" width="4.8" height="4.8" stroke="#000" stroke-width="1.35" fill="none"/>
<rect x="254.9" y="342.1" width="4.8" height="4.8" stroke="#000" stroke-width="1.35" fill="none"/>
<rect x="256.7" y="335.8" width="4.8" height="4.8" stroke="#000" stroke-width="1.35" fill="none"/>
<rect x="260.3" y="335.8" width="4.8" height="4.8" stroke="#000" stroke-width="1.35" fill="none"/>
<rect x="264.0" y="334.9" width="4.8" height="4.8" stroke="#000" stroke-width="1.35" fill="none"/>
<rect x="269.1" y="333.1" width="4.8" height="4.8" stroke="#000" stroke-width="1.35" fill="none"/>
<rect x="273.1" y="331.2" width="4.8" height="4.8" stroke="#000" stroke-width="1.35" fill="none"/>
<rect x="274.0" y="335.8" width="4.8" height="4.8" stroke="#000" stroke-width="1.35" fill="none"/>
<rect x="280.3" y="344.0" width="4.8" height="4.8" stroke="#000" stroke-width="1.35" fill="none"/>
<rect x="292.5" y="330.3" width="4.8" height="4.8" stroke="#000" stroke-width="1.35" fill="none"/>
<rect x="296.7" y="340.9" width="4.8" height="4.8" stroke="#000" stroke-width="1.35" fill="none"/>
<rect x="316.7" y="335.8" width="4.8" height="4.8" stroke="#000" stroke-width="1.35" fill="none"/>
<rect x="335.2" y="320.3" width="4.8" height="4.8" stroke="#000" stroke-width="1.35" fill="none"/>
<rect x="349.4" y="324.0" width="4.8" height="4.8" stroke="#000" stroke-width="1.35" fill="none"/>
<rect x="357.2" y="333.1" width="4.8" height="4.8" stroke="#000" stroke-width="1.35" fill="none"/>
<rect x="384.0" y="335.8" width="4.8" height="4.8" stroke="#000" stroke-width="1.35" fill="none"/>
<rect x="384.0" y="338.5" width="4.8" height="4.8" stroke="#000" stroke-width="1.35" fill="none"/>
<rect x="394.9" y="324.9" width="4.8" height="4.8" stroke="#000" stroke-width="1.35" fill="none"/>
<rect x="406.1" y="326.3" width="4.8" height="4.8" stroke="#000" stroke-width="1.35" fill="none"/>
<rect x="417.9" y="325.9" width="4.8" height="4.8" stroke="#000" stroke-width="1.35" fill="none"/>
<rect x="417.9" y="329.1" width="4.8" height="4.8" stroke="#000" stroke-width="1.35" fill="none"/>
<rect x="417.9" y="332.1" width="4.8" height="4.8" stroke="#000" stroke-width="1.35" fill="none"/>
<rect x="417.9" y="341.0" width="4.8" height="4.8" stroke="#000" stroke-width="1.35" fill="none"/>
<rect x="447.3" y="324.9" width="4.8" height="4.8" stroke="#000" stroke-width="1.35" fill="none"/>
<rect x="463.9" y="340.1" width="4.8" height="4.8" stroke="#000" stroke-width="1.35" fill="none"/>
<rect x="84.3" y="388.5" width="4.8" height="4.8" stroke="#000" stroke-width="1.35" fill="none"/>
<rect x="89.8" y="387.4" width="4.8" height="4.8" stroke="#000" stroke-width="1.35" fill="none"/>
<rect x="84.3" y="394.0" width="4.8" height="4.8" stroke="#000" stroke-width="1.35" fill="none"/>
<rect x="82.7" y="400.5" width="4.8" height="4.8" stroke="#000" stroke-width="1.35" fill="none"/>
<rect x="106.1" y="390.1" width="4.8" height="4.8" stroke="#000" stroke-width="1.35" fill="none"/>
<rect x="104.5" y="353.9" width="4.8" height="4.8" stroke="#000" stroke-width="1.35" fill="none"/>
<rect x="103.4" y="356.6" width="4.8" height="4.8" stroke="#000" stroke-width="1.35" fill="none"/>
<rect x="104.5" y="361.0" width="4.8" height="4.8" stroke="#000" stroke-width="1.35" fill="none"/>
<rect x="102.3" y="365.3" width="4.8" height="4.8" stroke="#000" stroke-width="1.35" fill="none"/>
<rect x="99.6" y="370.2" width="4.8" height="4.8" stroke="#000" stroke-width="1.35" fill="none"/>
<rect x="129.6" y="365.9" width="4.8" height="4.8" stroke="#000" stroke-width="1.35" fill="none"/>
<rect x="94.7" y="367.5" width="4.8" height="4.8" stroke="#000" stroke-width="1.35" fill="none"/>
<rect x="153.0" y="361.0" width="4.8" height="4.8" stroke="#000" stroke-width="1.35" fill="none"/>
<rect x="127.2" y="389.6" width="4.8" height="4.8" stroke="#000" stroke-width="1.35" fill="none"/>
<path d="M73.5 387.4L80.4 394.3M73.5 394.3L80.4 387.4" stroke="#468EDC" stroke-width="1.35" fill="none"/>
<path d="M69.0 397.2L76.0 404.1M69.0 404.1L76.0 397.2" stroke="#468EDC" stroke-width="1.35" fill="none"/>
<path d="M70.8 401.7L77.7 408.6M70.8 408.6L77.7 401.7" stroke="#468EDC" stroke-width="1.35" fill="none"/>
<path d="M69.0 405.9L76.0 412.8M69.0 412.8L76.0 405.9" stroke="#468EDC" stroke-width="1.35" fill="none"/>
<path d="M84.3 405.9L91.2 412.8M84.3 412.8L91.2 405.9" stroke="#468EDC" stroke-width="1.35" fill="none"/>
<path d="M82.8 409.2L89.7 416.1M82.8 416.1L89.7 409.2" stroke="#468EDC" stroke-width="1.35" fill="none"/>
<path d="M86.0 410.4L92.9 417.2M86.0 417.2L92.9 410.4" stroke="#468EDC" stroke-width="1.35" fill="none"/>
<path d="M89.8 413.7L96.8 420.6M89.8 420.6L96.8 413.7" stroke="#468EDC" stroke-width="1.35" fill="none"/>
<path d="M97.5 401.7L104.4 408.6M97.5 408.6L104.4 401.7" stroke="#468EDC" stroke-width="1.35" fill="none"/>
<path d="M103.5 398.4L110.4 405.2M103.5 405.2L110.4 398.4" stroke="#468EDC" stroke-width="1.35" fill="none"/>
<path d="M105.0 401.1L112.0 407.9M105.0 407.9L112.0 401.1" stroke="#468EDC" stroke-width="1.35" fill="none"/>
<path d="M116.0 401.7L122.9 408.6M116.0 408.6L122.9 401.7" stroke="#468EDC" stroke-width="1.35" fill="none"/>
<path d="M114.8 408.2L121.8 415.1M114.8 415.1L121.8 408.2" stroke="#468EDC" stroke-width="1.35" fill="none"/>
<path d="M109.5 414.8L116.4 421.6M109.5 421.6L116.4 414.8" stroke="#468EDC" stroke-width="1.35" fill="none"/>
<path d="M70.1 420.2L77.0 427.1M70.1 427.1L77.0 420.2" stroke="#468EDC" stroke-width="1.35" fill="none"/>
<path d="M88.8 416.9L95.7 423.8M88.8 423.8L95.7 416.9" stroke="#468EDC" stroke-width="1.35" fill="none"/>
<path d="M83.0 412.9L89.9 419.8M83.0 419.8L89.9 412.9" stroke="#468EDC" stroke-width="1.35" fill="none"/>
<path d="M91.1 416.1L98.0 422.9M91.1 422.9L98.0 416.1" stroke="#468EDC" stroke-width="1.35" fill="none"/>
<path d="M90.5 420.4L97.5 427.3M90.5 427.3L97.5 420.4" stroke="#468EDC" stroke-width="1.35" fill="none"/>
<path d="M71.5 423.1L78.4 429.9M71.5 429.9L78.4 423.1" stroke="#468EDC" stroke-width="1.35" fill="none"/>
<path d="M75.2 426.9L82.2 433.8M75.2 433.8L82.2 426.9" stroke="#468EDC" stroke-width="1.35" fill="none"/>
<path d="M81.0 426.9L88.0 433.8M81.0 433.8L88.0 426.9" stroke="#468EDC" stroke-width="1.35" fill="none"/>
<path d="M84.1 427.4L91.0 434.3M84.1 434.3L91.0 427.4" stroke="#468EDC" stroke-width="1.35" fill="none"/>
<path d="M70.1 431.9L77.0 438.8M70.1 438.8L77.0 431.9" stroke="#468EDC" stroke-width="1.35" fill="none"/>
<path d="M74.0 432.6L81.0 439.4M74.0 439.4L81.0 432.6" stroke="#468EDC" stroke-width="1.35" fill="none"/>
<path d="M77.8 433.2L84.8 440.1M77.8 440.1L84.8 433.2" stroke="#468EDC" stroke-width="1.35" fill="none"/>
<path d="M70.1 435.8L77.0 442.6M70.1 442.6L77.0 435.8" stroke="#468EDC" stroke-width="1.35" fill="none"/>
<path d="M90.5 435.1L97.5 441.9M90.5 441.9L97.5 435.1" stroke="#468EDC" stroke-width="1.35" fill="none"/>
<path d="M70.1 442.8L77.0 449.6M70.1 449.6L77.0 442.8" stroke="#468EDC" stroke-width="1.35" fill="none"/>
<path d="M104.0 444.1L110.9 450.9M104.0 450.9L110.9 444.1" stroke="#468EDC" stroke-width="1.35" fill="none"/>
<path d="M110.2 449.8L117.2 456.6M110.2 456.6L117.2 449.8" stroke="#468EDC" stroke-width="1.35" fill="none"/>
<path d="M116.0 452.2L123.0 459.1M116.0 459.1L123.0 452.2" stroke="#468EDC" stroke-width="1.35" fill="none"/>
<path d="M125.0 440.9L131.8 447.8M125.0 447.8L131.8 440.9" stroke="#468EDC" stroke-width="1.35" fill="none"/>
<path d="M84.8 451.1L91.8 457.9M84.8 457.9L91.8 451.1" stroke="#468EDC" stroke-width="1.35" fill="none"/>
<path d="M83.5 454.9L90.5 461.8M83.5 461.8L90.5 454.9" stroke="#468EDC" stroke-width="1.35" fill="none"/>
<path d="M93.8 457.4L100.7 464.2M93.8 464.2L100.7 457.4" stroke="#468EDC" stroke-width="1.35" fill="none"/>
<path d="M67.0 456.1L74.0 462.9M67.0 462.9L74.0 456.1" stroke="#468EDC" stroke-width="1.35" fill="none"/>
<path d="M81.6 464.4L88.5 471.2M81.6 471.2L88.5 464.4" stroke="#468EDC" stroke-width="1.35" fill="none"/>
<path d="M126.5 397.1L133.4 403.9M126.5 403.9L133.4 397.1" stroke="#468EDC" stroke-width="1.35" fill="none"/>
<path d="M128.4 407.1L135.2 413.9M128.4 413.9L135.2 407.1" stroke="#468EDC" stroke-width="1.35" fill="none"/>
<path d="M143.9 394.2L150.8 401.1M143.9 401.1L150.8 394.2" stroke="#468EDC" stroke-width="1.35" fill="none"/>
<path d="M153.9 388.9L160.8 395.8M153.9 395.8L160.8 388.9" stroke="#468EDC" stroke-width="1.35" fill="none"/>
<path d="M162.1 419.8L168.9 426.6M162.1 426.6L168.9 419.8" stroke="#468EDC" stroke-width="1.35" fill="none"/>
<path d="M147.5 427.9L154.3 434.8M147.5 434.8L154.3 427.9" stroke="#468EDC" stroke-width="1.35" fill="none"/>
<path d="M203.0 428.4L209.8 435.3M203.0 435.3L209.8 428.4" stroke="#468EDC" stroke-width="1.35" fill="none"/>
<path d="M194.8 397.9L201.6 404.8M194.8 404.8L201.6 397.9" stroke="#468EDC" stroke-width="1.35" fill="none"/>
<path d="M197.5 398.9L204.3 405.8M197.5 405.8L204.3 398.9" stroke="#468EDC" stroke-width="1.35" fill="none"/>
<path d="M196.6 390.7L203.4 397.6M196.6 397.6L203.4 390.7" stroke="#468EDC" stroke-width="1.35" fill="none"/>
<path d="M202.1 389.8L208.9 396.6M202.1 396.6L208.9 389.8" stroke="#468EDC" stroke-width="1.35" fill="none"/>
<path d="M209.2 392.4L216.1 399.3M209.2 399.3L216.1 392.4" stroke="#468EDC" stroke-width="1.35" fill="none"/>
<path d="M211.1 387.1L217.9 393.9M211.1 393.9L217.9 387.1" stroke="#468EDC" stroke-width="1.35" fill="none"/>
<path d="M214.8 388.9L221.6 395.8M214.8 395.8L221.6 388.9" stroke="#468EDC" stroke-width="1.35" fill="none"/>
<path d="M200.2 387.7L207.1 394.6M200.2 394.6L207.1 387.7" stroke="#468EDC" stroke-width="1.35" fill="none"/>
<path d="M218.5 395.7L225.3 402.6M218.5 402.6L225.3 395.7" stroke="#468EDC" stroke-width="1.35" fill="none"/>
<path d="M227.2 376.1L234.0 382.9M227.2 382.9L234.0 376.1" stroke="#468EDC" stroke-width="1.35" fill="none"/>
<path d="M233.1 392.8L239.9 399.6M233.1 399.6L239.9 392.8" stroke="#468EDC" stroke-width="1.35" fill="none"/>
<path d="M235.2 389.1L242.0 395.9M235.2 395.9L242.0 389.1" stroke="#468EDC" stroke-width="1.35" fill="none"/>
<path d="M241.8 387.7L248.6 394.6M241.8 394.6L248.6 387.7" stroke="#468EDC" stroke-width="1.35" fill="none"/>
<path d="M246.9 396.4L253.8 403.2M246.9 403.2L253.8 396.4" stroke="#468EDC" stroke-width="1.35" fill="none"/>
<path d="M249.1 392.1L255.9 398.9M249.1 398.9L255.9 392.1" stroke="#468EDC" stroke-width="1.35" fill="none"/>
<path d="M251.2 388.4L258.1 395.2M251.2 395.2L258.1 388.4" stroke="#468EDC" stroke-width="1.35" fill="none"/>
<path d="M252.7 393.4L259.6 400.3M252.7 400.3L259.6 393.4" stroke="#468EDC" stroke-width="1.35" fill="none"/>
<path d="M255.6 386.2L262.4 393.1M255.6 393.1L262.4 386.2" stroke="#468EDC" stroke-width="1.35" fill="none"/>
<path d="M267.2 383.2L274.1 390.1M267.2 390.1L274.1 383.2" stroke="#468EDC" stroke-width="1.35" fill="none"/>
<path d="M250.7 395.2L257.6 402.1M250.7 402.1L257.6 395.2" stroke="#468EDC" stroke-width="1.35" fill="none"/>
<path d="M272.4 386.1L279.2 392.9M272.4 392.9L279.2 386.1" stroke="#468EDC" stroke-width="1.35" fill="none"/>
<path d="M289.9 378.8L296.8 385.6M289.9 385.6L296.8 378.8" stroke="#468EDC" stroke-width="1.35" fill="none"/>
<path d="M316.1 391.9L322.9 398.8M316.1 398.8L322.9 391.9" stroke="#468EDC" stroke-width="1.35" fill="none"/>
<path d="M334.2 394.8L341.1 401.6M334.2 401.6L341.1 394.8" stroke="#468EDC" stroke-width="1.35" fill="none"/>
<path d="M345.9 387.4L352.8 394.3M345.9 394.3L352.8 387.4" stroke="#468EDC" stroke-width="1.35" fill="none"/>
<path d="M348.1 388.9L354.9 395.8M348.1 395.8L354.9 388.9" stroke="#468EDC" stroke-width="1.35" fill="none"/>
<path d="M356.1 386.8L362.9 393.6M356.1 393.6L362.9 386.8" stroke="#468EDC" stroke-width="1.35" fill="none"/>
<path d="M383.1 386.8L389.9 393.6M383.1 393.6L389.9 386.8" stroke="#468EDC" stroke-width="1.35" fill="none"/>
<path d="M393.2 385.2L400.1 392.1M393.2 392.1L400.1 385.2" stroke="#468EDC" stroke-width="1.35" fill="none"/>
<path d="M404.1 383.1L410.9 389.9M404.1 389.9L410.9 383.1" stroke="#468EDC" stroke-width="1.35" fill="none"/>
<path d="M417.2 386.8L424.1 393.6M417.2 393.6L424.1 386.8" stroke="#468EDC" stroke-width="1.35" fill="none"/>
<path d="M446.4 380.9L453.3 387.8M446.4 387.8L453.3 380.9" stroke="#468EDC" stroke-width="1.35" fill="none"/>
<path d="M462.4 386.8L469.3 393.6M462.4 393.6L469.3 386.8" stroke="#468EDC" stroke-width="1.35" fill="none"/>
<path d="M73.5 382.8H80.1M76.8 379.5V386.1" stroke="#ED7D31" stroke-width="1.1" fill="none"/>
<path d="M76.5 382.7H83.1M79.8 379.4V386.0" stroke="#ED7D31" stroke-width="1.1" fill="none"/>
<path d="M79.6 383.0H86.2M82.9 379.7V386.3" stroke="#ED7D31" stroke-width="1.1" fill="none"/>
<path d="M82.6 383.0H89.2M85.9 379.7V386.3" stroke="#ED7D31" stroke-width="1.1" fill="none"/>
<path d="M85.7 383.0H92.3M89.0 379.7V386.3" stroke="#ED7D31" stroke-width="1.1" fill="none"/>
<path d="M88.7 382.7H95.3M92.0 379.4V386.0" stroke="#ED7D31" stroke-width="1.1" fill="none"/>
<path d="M91.8 383.2H98.4M95.1 379.9V386.5" stroke="#ED7D31" stroke-width="1.1" fill="none"/>
<path d="M94.8 382.7H101.4M98.1 379.4V386.0" stroke="#ED7D31" stroke-width="1.1" fill="none"/>
<path d="M97.9 383.3H104.5M101.2 380.0V386.6" stroke="#ED7D31" stroke-width="1.1" fill="none"/>
<path d="M100.9 382.8H107.5M104.2 379.5V386.1" stroke="#ED7D31" stroke-width="1.1" fill="none"/>
<path d="M104.0 382.5H110.6M107.3 379.2V385.8" stroke="#ED7D31" stroke-width="1.1" fill="none"/>
<path d="M107.0 382.7H113.6M110.3 379.4V386.0" stroke="#ED7D31" stroke-width="1.1" fill="none"/>
<path d="M110.1 382.6H116.7M113.4 379.3V385.9" stroke="#ED7D31" stroke-width="1.1" fill="none"/>
<path d="M113.1 383.1H119.7M116.4 379.8V386.4" stroke="#ED7D31" stroke-width="1.1" fill="none"/>
<path d="M116.2 382.9H122.8M119.5 379.6V386.2" stroke="#ED7D31" stroke-width="1.1" fill="none"/>
<path d="M119.2 382.7H125.8M122.5 379.4V386.0" stroke="#ED7D31" stroke-width="1.1" fill="none"/>
<path d="M122.3 382.5H128.9M125.6 379.2V385.8" stroke="#ED7D31" stroke-width="1.1" fill="none"/>
<path d="M125.3 387.4H131.9M128.6 384.1V390.7" stroke="#ED7D31" stroke-width="1.1" fill="none"/>
<path d="M128.4 387.6H135.0M131.7 384.3V390.9" stroke="#ED7D31" stroke-width="1.1" fill="none"/>
<path d="M131.4 387.7H138.0M134.7 384.4V391.0" stroke="#ED7D31" stroke-width="1.1" fill="none"/>
<path d="M134.5 387.5H141.1M137.8 384.2V390.8" stroke="#ED7D31" stroke-width="1.1" fill="none"/>
<path d="M137.5 387.8H144.2M140.8 384.5V391.1" stroke="#ED7D31" stroke-width="1.1" fill="none"/>
<path d="M140.6 387.7H147.2M143.9 384.4V391.0" stroke="#ED7D31" stroke-width="1.1" fill="none"/>
<path d="M143.7 388.0H150.3M147.0 384.7V391.3" stroke="#ED7D31" stroke-width="1.1" fill="none"/>
<path d="M146.7 387.5H153.3M150.0 384.2V390.8" stroke="#ED7D31" stroke-width="1.1" fill="none"/>
<path d="M149.8 386.9H156.4M153.1 383.6V390.2" stroke="#ED7D31" stroke-width="1.1" fill="none"/>
<path d="M152.8 387.1H159.4M156.1 383.8V390.4" stroke="#ED7D31" stroke-width="1.1" fill="none"/>
<path d="M155.9 383.1H162.5M159.2 379.8V386.4" stroke="#ED7D31" stroke-width="1.1" fill="none"/>
<path d="M158.9 383.3H165.5M162.2 380.0V386.6" stroke="#ED7D31" stroke-width="1.1" fill="none"/>
<path d="M162.0 383.2H168.6M165.3 379.9V386.5" stroke="#ED7D31" stroke-width="1.1" fill="none"/>
<path d="M165.0 383.1H171.6M168.3 379.8V386.4" stroke="#ED7D31" stroke-width="1.1" fill="none"/>
<path d="M168.1 383.3H174.7M171.4 380.0V386.6" stroke="#ED7D31" stroke-width="1.1" fill="none"/>
<path d="M171.1 383.2H177.7M174.4 379.9V386.5" stroke="#ED7D31" stroke-width="1.1" fill="none"/>
<path d="M174.2 383.6H180.8M177.5 380.3V386.9" stroke="#ED7D31" stroke-width="1.1" fill="none"/>
<path d="M177.2 383.4H183.8M180.5 380.1V386.7" stroke="#ED7D31" stroke-width="1.1" fill="none"/>
<path d="M180.3 383.5H186.9M183.6 380.2V386.8" stroke="#ED7D31" stroke-width="1.1" fill="none"/>
<path d="M183.3 383.7H189.9M186.6 380.4V387.0" stroke="#ED7D31" stroke-width="1.1" fill="none"/>
<path d="M186.4 383.2H193.0M189.7 379.9V386.5" stroke="#ED7D31" stroke-width="1.1" fill="none"/>
<path d="M189.4 383.5H196.0M192.7 380.2V386.8" stroke="#ED7D31" stroke-width="1.1" fill="none"/>
<path d="M192.5 383.6H199.1M195.8 380.3V386.9" stroke="#ED7D31" stroke-width="1.1" fill="none"/>
<path d="M195.5 384.3H202.1M198.8 381.0V387.6" stroke="#ED7D31" stroke-width="1.1" fill="none"/>
<path d="M198.6 385.1H205.2M201.9 381.8V388.4" stroke="#ED7D31" stroke-width="1.1" fill="none"/>
<path d="M201.6 384.5H208.2M204.9 381.2V387.8" stroke="#ED7D31" stroke-width="1.1" fill="none"/>
<path d="M204.7 384.8H211.3M208.0 381.5V388.1" stroke="#ED7D31" stroke-width="1.1" fill="none"/>
<path d="M207.7 384.3H214.3M211.0 381.0V387.6" stroke="#ED7D31" stroke-width="1.1" fill="none"/>
<path d="M210.8 384.4H217.4M214.1 381.1V387.7" stroke="#ED7D31" stroke-width="1.1" fill="none"/>
<path d="M213.8 382.6H220.4M217.1 379.3V385.9" stroke="#ED7D31" stroke-width="1.1" fill="none"/>
<path d="M216.9 385.3H223.5M220.2 382.0V388.6" stroke="#ED7D31" stroke-width="1.1" fill="none"/>
<path d="M219.9 385.6H226.5M223.2 382.3V388.9" stroke="#ED7D31" stroke-width="1.1" fill="none"/>
<path d="M223.0 384.9H229.6M226.3 381.6V388.2" stroke="#ED7D31" stroke-width="1.1" fill="none"/>
<path d="M226.0 384.9H232.6M229.3 381.6V388.2" stroke="#ED7D31" stroke-width="1.1" fill="none"/>
<path d="M229.1 385.0H235.7M232.4 381.7V388.3" stroke="#ED7D31" stroke-width="1.1" fill="none"/>
<path d="M232.1 384.7H238.7M235.4 381.4V388.0" stroke="#ED7D31" stroke-width="1.1" fill="none"/>
<path d="M235.2 384.8H241.8M238.5 381.5V388.1" stroke="#ED7D31" stroke-width="1.1" fill="none"/>
<path d="M238.2 384.8H244.8M241.5 381.5V388.1" stroke="#ED7D31" stroke-width="1.1" fill="none"/>
<path d="M241.3 384.8H247.9M244.6 381.5V388.1" stroke="#ED7D31" stroke-width="1.1" fill="none"/>
<path d="M244.3 384.7H250.9M247.6 381.4V388.0" stroke="#ED7D31" stroke-width="1.1" fill="none"/>
<path d="M247.4 384.2H254.0M250.7 380.9V387.5" stroke="#ED7D31" stroke-width="1.1" fill="none"/>
<path d="M250.4 384.7H257.0M253.7 381.4V388.0" stroke="#ED7D31" stroke-width="1.1" fill="none"/>
<path d="M76.8 382.0L79.5 384.7L76.8 387.5L74.0 384.7Z" stroke="#7030A0" stroke-width="1.2" fill="none"/>
<path d="M79.8 382.3L82.6 385.0L79.8 387.8L77.1 385.0Z" stroke="#7030A0" stroke-width="1.2" fill="none"/>
<path d="M82.9 382.1L85.6 384.9L82.9 387.6L80.1 384.9Z" stroke="#7030A0" stroke-width="1.2" fill="none"/>
<path d="M85.9 381.6L88.7 384.4L85.9 387.1L83.2 384.4Z" stroke="#7030A0" stroke-width="1.2" fill="none"/>
<path d="M89.0 381.6L91.7 384.4L89.0 387.1L86.2 384.4Z" stroke="#7030A0" stroke-width="1.2" fill="none"/>
<path d="M92.0 381.6L94.8 384.4L92.0 387.1L89.3 384.4Z" stroke="#7030A0" stroke-width="1.2" fill="none"/>
<path d="M95.1 382.0L97.8 384.7L95.1 387.5L92.3 384.7Z" stroke="#7030A0" stroke-width="1.2" fill="none"/>
<path d="M98.1 381.6L100.9 384.4L98.1 387.1L95.4 384.4Z" stroke="#7030A0" stroke-width="1.2" fill="none"/>
<path d="M101.2 382.1L103.9 384.9L101.2 387.6L98.4 384.9Z" stroke="#7030A0" stroke-width="1.2" fill="none"/>
<path d="M104.2 382.1L107.0 384.8L104.2 387.6L101.5 384.8Z" stroke="#7030A0" stroke-width="1.2" fill="none"/>
<path d="M107.3 382.4L110.0 385.2L107.3 387.9L104.5 385.2Z" stroke="#7030A0" stroke-width="1.2" fill="none"/>
<path d="M110.3 382.3L113.1 385.1L110.3 387.8L107.6 385.1Z" stroke="#7030A0" stroke-width="1.2" fill="none"/>
<path d="M113.4 381.6L116.1 384.3L113.4 387.1L110.6 384.3Z" stroke="#7030A0" stroke-width="1.2" fill="none"/>
<path d="M116.4 381.7L119.2 384.5L116.4 387.2L113.7 384.5Z" stroke="#7030A0" stroke-width="1.2" fill="none"/>
<path d="M119.5 381.6L122.2 384.3L119.5 387.1L116.7 384.3Z" stroke="#7030A0" stroke-width="1.2" fill="none"/>
<path d="M122.5 382.0L125.3 384.8L122.5 387.5L119.8 384.8Z" stroke="#7030A0" stroke-width="1.2" fill="none"/>
<path d="M125.6 381.9L128.3 384.7L125.6 387.4L122.8 384.7Z" stroke="#7030A0" stroke-width="1.2" fill="none"/>
<path d="M128.6 381.4L131.4 384.2L128.6 386.9L125.9 384.2Z" stroke="#7030A0" stroke-width="1.2" fill="none"/>
<path d="M131.7 382.1L134.4 384.8L131.7 387.6L128.9 384.8Z" stroke="#7030A0" stroke-width="1.2" fill="none"/>
<path d="M134.7 381.7L137.5 384.5L134.7 387.2L132.0 384.5Z" stroke="#7030A0" stroke-width="1.2" fill="none"/>
<path d="M137.8 381.9L140.5 384.6L137.8 387.4L135.0 384.6Z" stroke="#7030A0" stroke-width="1.2" fill="none"/>
<path d="M140.8 382.2L143.6 385.0L140.8 387.7L138.1 385.0Z" stroke="#7030A0" stroke-width="1.2" fill="none"/>
<path d="M143.9 381.7L146.7 384.4L143.9 387.2L141.2 384.4Z" stroke="#7030A0" stroke-width="1.2" fill="none"/>
<path d="M147.0 382.0L149.7 384.7L147.0 387.5L144.2 384.7Z" stroke="#7030A0" stroke-width="1.2" fill="none"/>
<path d="M150.0 382.2L152.8 384.9L150.0 387.7L147.3 384.9Z" stroke="#7030A0" stroke-width="1.2" fill="none"/>
<path d="M153.1 381.9L155.8 384.7L153.1 387.4L150.3 384.7Z" stroke="#7030A0" stroke-width="1.2" fill="none"/>
<path d="M156.1 381.1L158.9 383.8L156.1 386.6L153.4 383.8Z" stroke="#7030A0" stroke-width="1.2" fill="none"/>
<path d="M159.2 380.8L161.9 383.6L159.2 386.3L156.4 383.6Z" stroke="#7030A0" stroke-width="1.2" fill="none"/>
<path d="M162.2 380.7L165.0 383.5L162.2 386.2L159.5 383.5Z" stroke="#7030A0" stroke-width="1.2" fill="none"/>
<path d="M165.3 381.5L168.0 384.2L165.3 387.0L162.5 384.2Z" stroke="#7030A0" stroke-width="1.2" fill="none"/>
<path d="M168.3 381.6L171.1 384.4L168.3 387.1L165.6 384.4Z" stroke="#7030A0" stroke-width="1.2" fill="none"/>
<path d="M171.4 381.5L174.1 384.2L171.4 387.0L168.6 384.2Z" stroke="#7030A0" stroke-width="1.2" fill="none"/>
<path d="M174.4 381.4L177.2 384.1L174.4 386.9L171.7 384.1Z" stroke="#7030A0" stroke-width="1.2" fill="none"/>
<path d="M177.5 381.7L180.2 384.4L177.5 387.2L174.7 384.4Z" stroke="#7030A0" stroke-width="1.2" fill="none"/>
<path d="M180.5 381.3L183.3 384.1L180.5 386.8L177.8 384.1Z" stroke="#7030A0" stroke-width="1.2" fill="none"/>
<path d="M183.6 380.9L186.3 383.7L183.6 386.4L180.8 383.7Z" stroke="#7030A0" stroke-width="1.2" fill="none"/>
<path d="M186.6 381.5L189.4 384.3L186.6 387.0L183.9 384.3Z" stroke="#7030A0" stroke-width="1.2" fill="none"/>
<path d="M189.7 381.7L192.4 384.5L189.7 387.2L186.9 384.5Z" stroke="#7030A0" stroke-width="1.2" fill="none"/>
<path d="M192.7 381.3L195.5 384.1L192.7 386.8L190.0 384.1Z" stroke="#7030A0" stroke-width="1.2" fill="none"/>
<path d="M195.8 381.2L198.5 384.0L195.8 386.7L193.0 384.0Z" stroke="#7030A0" stroke-width="1.2" fill="none"/>
<path d="M198.8 382.3L201.6 385.1L198.8 387.8L196.1 385.1Z" stroke="#7030A0" stroke-width="1.2" fill="none"/>
<path d="M201.9 382.1L204.6 384.8L201.9 387.6L199.1 384.8Z" stroke="#7030A0" stroke-width="1.2" fill="none"/>
<path d="M204.9 382.0L207.7 384.8L204.9 387.5L202.2 384.8Z" stroke="#7030A0" stroke-width="1.2" fill="none"/>
<path d="M208.0 382.4L210.7 385.1L208.0 387.9L205.2 385.1Z" stroke="#7030A0" stroke-width="1.2" fill="none"/>
<path d="M211.0 381.6L213.8 384.3L211.0 387.1L208.3 384.3Z" stroke="#7030A0" stroke-width="1.2" fill="none"/>
<path d="M214.1 382.3L216.8 385.0L214.1 387.8L211.3 385.0Z" stroke="#7030A0" stroke-width="1.2" fill="none"/>
<path d="M217.1 381.0L219.9 383.8L217.1 386.5L214.4 383.8Z" stroke="#7030A0" stroke-width="1.2" fill="none"/>
<path d="M220.2 383.0L222.9 385.7L220.2 388.5L217.4 385.7Z" stroke="#7030A0" stroke-width="1.2" fill="none"/>
<path d="M223.2 383.0L226.0 385.8L223.2 388.5L220.5 385.8Z" stroke="#7030A0" stroke-width="1.2" fill="none"/>
<path d="M226.3 384.2L229.0 386.9L226.3 389.7L223.5 386.9Z" stroke="#7030A0" stroke-width="1.2" fill="none"/>
<path d="M229.3 382.5L232.1 385.3L229.3 388.0L226.6 385.3Z" stroke="#7030A0" stroke-width="1.2" fill="none"/>
<path d="M232.4 382.5L235.1 385.3L232.4 388.0L229.6 385.3Z" stroke="#7030A0" stroke-width="1.2" fill="none"/>
<path d="M235.4 383.2L238.2 385.9L235.4 388.7L232.7 385.9Z" stroke="#7030A0" stroke-width="1.2" fill="none"/>
<path d="M238.5 381.9L241.2 384.7L238.5 387.4L235.7 384.7Z" stroke="#7030A0" stroke-width="1.2" fill="none"/>
<path d="M241.5 382.6L244.3 385.3L241.5 388.1L238.8 385.3Z" stroke="#7030A0" stroke-width="1.2" fill="none"/>
<path d="M244.6 383.6L247.3 386.4L244.6 389.1L241.8 386.4Z" stroke="#7030A0" stroke-width="1.2" fill="none"/>
<path d="M247.6 382.7L250.4 385.4L247.6 388.2L244.9 385.4Z" stroke="#7030A0" stroke-width="1.2" fill="none"/>
<path d="M250.7 382.9L253.4 385.7L250.7 388.4L247.9 385.7Z" stroke="#7030A0" stroke-width="1.2" fill="none"/>
<path d="M253.7 383.3L256.5 386.0L253.7 388.8L251.0 386.0Z" stroke="#7030A0" stroke-width="1.2" fill="none"/>
<path d="M256.8 380.7L259.5 383.5L256.8 386.2L254.0 383.5Z" stroke="#7030A0" stroke-width="1.2" fill="none"/>
<path d="M259.8 382.7L262.6 385.5L259.8 388.2L257.1 385.5Z" stroke="#7030A0" stroke-width="1.2" fill="none"/>
<path d="M262.9 381.6L265.6 384.4L262.9 387.1L260.1 384.4Z" stroke="#7030A0" stroke-width="1.2" fill="none"/>
<path d="M265.9 381.6L268.7 384.4L265.9 387.1L263.2 384.4Z" stroke="#7030A0" stroke-width="1.2" fill="none"/>
<path d="M269.0 381.0L271.7 383.7L269.0 386.5L266.2 383.7Z" stroke="#7030A0" stroke-width="1.2" fill="none"/>
<path d="M272.0 382.0L274.8 384.8L272.0 387.5L269.3 384.8Z" stroke="#7030A0" stroke-width="1.2" fill="none"/>
<path d="M275.1 380.9L277.8 383.6L275.1 386.4L272.3 383.6Z" stroke="#7030A0" stroke-width="1.2" fill="none"/>
<path d="M278.1 380.9L280.9 383.6L278.1 386.4L275.4 383.6Z" stroke="#7030A0" stroke-width="1.2" fill="none"/>
<path d="M281.2 381.1L283.9 383.9L281.2 386.6L278.4 383.9Z" stroke="#7030A0" stroke-width="1.2" fill="none"/>
<path d="M284.2 381.0L287.0 383.7L284.2 386.5L281.5 383.7Z" stroke="#7030A0" stroke-width="1.2" fill="none"/>
<path d="M287.3 381.7L290.0 384.5L287.3 387.2L284.5 384.5Z" stroke="#7030A0" stroke-width="1.2" fill="none"/>
<path d="M290.3 383.7L293.1 386.5L290.3 389.2L287.6 386.5Z" stroke="#7030A0" stroke-width="1.2" fill="none"/>
<path d="M293.4 381.9L296.1 384.6L293.4 387.4L290.6 384.6Z" stroke="#7030A0" stroke-width="1.2" fill="none"/>
<path d="M296.4 380.2L299.2 382.9L296.4 385.7L293.7 382.9Z" stroke="#7030A0" stroke-width="1.2" fill="none"/>
<path d="M299.5 377.9L302.2 380.6L299.5 383.4L296.7 380.6Z" stroke="#7030A0" stroke-width="1.2" fill="none"/>
<path d="M302.5 378.0L305.3 380.7L302.5 383.5L299.8 380.7Z" stroke="#7030A0" stroke-width="1.2" fill="none"/>
<path d="M305.6 377.1L308.3 379.9L305.6 382.6L302.8 379.9Z" stroke="#7030A0" stroke-width="1.2" fill="none"/>
<path d="M308.6 378.7L311.4 381.4L308.6 384.2L305.9 381.4Z" stroke="#7030A0" stroke-width="1.2" fill="none"/>
<path d="M311.7 378.6L314.4 381.4L311.7 384.1L308.9 381.4Z" stroke="#7030A0" stroke-width="1.2" fill="none"/>
<path d="M314.7 378.9L317.5 381.7L314.7 384.4L312.0 381.7Z" stroke="#7030A0" stroke-width="1.2" fill="none"/>
<path d="M317.8 380.6L320.5 383.3L317.8 386.1L315.0 383.3Z" stroke="#7030A0" stroke-width="1.2" fill="none"/>
<path d="M320.8 381.3L323.6 384.1L320.8 386.8L318.1 384.1Z" stroke="#7030A0" stroke-width="1.2" fill="none"/>
<path d="M323.9 381.4L326.6 384.1L323.9 386.9L321.1 384.1Z" stroke="#7030A0" stroke-width="1.2" fill="none"/>
<path d="M326.9 380.9L329.7 383.6L326.9 386.4L324.2 383.6Z" stroke="#7030A0" stroke-width="1.2" fill="none"/>
<path d="M330.0 382.3L332.7 385.1L330.0 387.8L327.2 385.1Z" stroke="#7030A0" stroke-width="1.2" fill="none"/>
<path d="M333.0 382.6L335.8 385.4L333.0 388.1L330.3 385.4Z" stroke="#7030A0" stroke-width="1.2" fill="none"/>
<path d="M336.1 381.6L338.8 384.3L336.1 387.1L333.3 384.3Z" stroke="#7030A0" stroke-width="1.2" fill="none"/>
<path d="M339.1 381.6L341.9 384.4L339.1 387.1L336.4 384.4Z" stroke="#7030A0" stroke-width="1.2" fill="none"/>
<path d="M342.2 380.8L344.9 383.6L342.2 386.3L339.4 383.6Z" stroke="#7030A0" stroke-width="1.2" fill="none"/>
<path d="M345.2 380.9L348.0 383.6L345.2 386.4L342.5 383.6Z" stroke="#7030A0" stroke-width="1.2" fill="none"/>
<path d="M348.3 381.3L351.0 384.1L348.3 386.8L345.5 384.1Z" stroke="#7030A0" stroke-width="1.2" fill="none"/>
<path d="M351.3 381.2L354.1 383.9L351.3 386.7L348.6 383.9Z" stroke="#7030A0" stroke-width="1.2" fill="none"/>
<path d="M354.4 382.3L357.1 385.1L354.4 387.8L351.6 385.1Z" stroke="#7030A0" stroke-width="1.2" fill="none"/>
<path d="M357.4 381.0L360.2 383.7L357.4 386.5L354.7 383.7Z" stroke="#7030A0" stroke-width="1.2" fill="none"/>
<path d="M360.5 380.7L363.2 383.4L360.5 386.2L357.7 383.4Z" stroke="#7030A0" stroke-width="1.2" fill="none"/>
<path d="M363.5 382.6L366.3 385.3L363.5 388.1L360.8 385.3Z" stroke="#7030A0" stroke-width="1.2" fill="none"/>
<path d="M366.6 381.7L369.3 384.5L366.6 387.2L363.8 384.5Z" stroke="#7030A0" stroke-width="1.2" fill="none"/>
<path d="M369.6 380.9L372.4 383.7L369.6 386.4L366.9 383.7Z" stroke="#7030A0" stroke-width="1.2" fill="none"/>
<path d="M372.7 381.7L375.4 384.5L372.7 387.2L369.9 384.5Z" stroke="#7030A0" stroke-width="1.2" fill="none"/>
<path d="M375.7 380.7L378.5 383.5L375.7 386.2L373.0 383.5Z" stroke="#7030A0" stroke-width="1.2" fill="none"/>
<path d="M378.8 381.7L381.5 384.5L378.8 387.2L376.0 384.5Z" stroke="#7030A0" stroke-width="1.2" fill="none"/>
<path d="M381.8 382.6L384.6 385.4L381.8 388.1L379.1 385.4Z" stroke="#7030A0" stroke-width="1.2" fill="none"/>
<path d="M384.9 382.4L387.6 385.1L384.9 387.9L382.1 385.1Z" stroke="#7030A0" stroke-width="1.2" fill="none"/>
<path d="M387.9 382.0L390.7 384.8L387.9 387.5L385.2 384.8Z" stroke="#7030A0" stroke-width="1.2" fill="none"/>
<path d="M391.0 380.1L393.7 382.8L391.0 385.6L388.2 382.8Z" stroke="#7030A0" stroke-width="1.2" fill="none"/>
<path d="M394.0 377.8L396.8 380.5L394.0 383.3L391.3 380.5Z" stroke="#7030A0" stroke-width="1.2" fill="none"/>
<path d="M397.1 378.1L399.8 380.9L397.1 383.6L394.3 380.9Z" stroke="#7030A0" stroke-width="1.2" fill="none"/>
<path d="M400.1 382.0L402.9 384.7L400.1 387.5L397.4 384.7Z" stroke="#7030A0" stroke-width="1.2" fill="none"/>
<path d="M403.2 381.5L405.9 384.3L403.2 387.0L400.4 384.3Z" stroke="#7030A0" stroke-width="1.2" fill="none"/>
<path d="M406.2 382.0L409.0 384.8L406.2 387.5L403.5 384.8Z" stroke="#7030A0" stroke-width="1.2" fill="none"/>
<path d="M409.3 381.1L412.0 383.9L409.3 386.6L406.5 383.9Z" stroke="#7030A0" stroke-width="1.2" fill="none"/>
<path d="M412.3 380.9L415.1 383.6L412.3 386.4L409.6 383.6Z" stroke="#7030A0" stroke-width="1.2" fill="none"/>
<path d="M415.4 382.1L418.1 384.8L415.4 387.6L412.6 384.8Z" stroke="#7030A0" stroke-width="1.2" fill="none"/>
<path d="M418.4 382.4L421.2 385.2L418.4 387.9L415.7 385.2Z" stroke="#7030A0" stroke-width="1.2" fill="none"/>
<path d="M421.5 382.2L424.2 384.9L421.5 387.7L418.7 384.9Z" stroke="#7030A0" stroke-width="1.2" fill="none"/>
<path d="M424.5 382.1L427.3 384.8L424.5 387.6L421.8 384.8Z" stroke="#7030A0" stroke-width="1.2" fill="none"/>
<path d="M427.6 381.6L430.3 384.4L427.6 387.1L424.8 384.4Z" stroke="#7030A0" stroke-width="1.2" fill="none"/>
<path d="M430.6 380.2L433.4 383.0L430.6 385.7L427.9 383.0Z" stroke="#7030A0" stroke-width="1.2" fill="none"/>
<path d="M433.7 379.2L436.4 382.0L433.7 384.7L430.9 382.0Z" stroke="#7030A0" stroke-width="1.2" fill="none"/>
<path d="M436.7 379.8L439.5 382.5L436.7 385.3L434.0 382.5Z" stroke="#7030A0" stroke-width="1.2" fill="none"/>
<path d="M439.8 381.1L442.5 383.8L439.8 386.6L437.0 383.8Z" stroke="#7030A0" stroke-width="1.2" fill="none"/>
<rect x="313.5" y="413.2" width="4.8" height="4.8" stroke="#000" stroke-width="1.35" fill="none"/>
<text x="337.1" y="419.2" class="lg">Engelund &amp; Hansen method</text>
<path d="M312.4 424.6L319.3 431.5M312.4 431.5L319.3 424.6" stroke="#468EDC" stroke-width="1.35" fill="none"/>
<text x="337.1" y="431.7" class="lg">Van Rijn method</text>
<path d="M312.5 440.6H319.3M315.9 437.2V444.0" stroke="#ED7D31" stroke-width="1.4" fill="none"/>
<text x="337.1" y="444.2" class="lg">Proposed method (7.5≤θ/θcr≤250)</text>
<path d="M315.9 450.2L318.8 453.1L315.9 456.0L313.0 453.1Z" stroke="#7030A0" stroke-width="1.2" fill="none"/>
<text x="337.1" y="456.7" class="lg">Proposed method (θ/θcr≤7.5)</text>
</svg>
</body></html>
